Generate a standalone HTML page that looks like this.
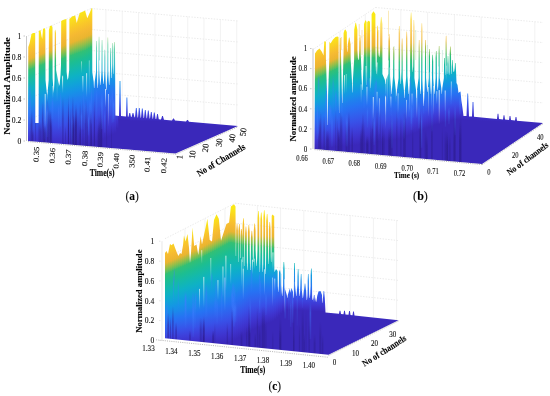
<!DOCTYPE html>
<html><head><meta charset="utf-8"><style>
html,body{margin:0;padding:0;background:#fff;}
svg{display:block;}
.g{stroke:#dcdcdc;stroke-width:0.6;stroke-dasharray:1.4 1.4;fill:none;}
.ax{stroke:#b0b0b0;stroke-width:0.7;fill:none;}
.gv{stroke:#ececec;stroke-width:0.7;fill:none;}
.ax2{stroke:#d8d8d8;stroke-width:0.6;fill:none;}
.axd{stroke:#a8a8a8;stroke-width:0.8;stroke-dasharray:1.1 1.1;fill:none;}
text{font-family:"Liberation Serif","Times New Roman",serif;fill:#111;stroke:#111;stroke-width:0.12;}
.b{font-weight:bold;fill:#000;stroke:#000;stroke-width:0.1;}
</style></head><body>
<svg width="550" height="396" viewBox="0 0 550 396">
<defs>
<linearGradient id="gH" x1="0" y1="0" x2="0" y2="1"><stop offset="0.000" stop-color="#fae816"/><stop offset="0.167" stop-color="#fad720"/><stop offset="0.333" stop-color="#f9c62a"/><stop offset="0.500" stop-color="#f5b932"/><stop offset="0.667" stop-color="#eab530"/><stop offset="0.833" stop-color="#91bf4a"/><stop offset="1.000" stop-color="#34c073"/></linearGradient>
<linearGradient id="gM" x1="0" y1="0" x2="0" y2="1"><stop offset="0.000" stop-color="#34c073"/><stop offset="0.167" stop-color="#1dbe90"/><stop offset="0.333" stop-color="#14b9ab"/><stop offset="0.500" stop-color="#0eb2c4"/><stop offset="0.667" stop-color="#10a4d7"/><stop offset="0.833" stop-color="#1594e6"/><stop offset="1.000" stop-color="#1e83ed"/></linearGradient>
<linearGradient id="gL" x1="0" y1="0" x2="0" y2="1"><stop offset="0.000" stop-color="#1e83ed"/><stop offset="0.167" stop-color="#2672f3"/><stop offset="0.333" stop-color="#3062ee"/><stop offset="0.500" stop-color="#3851e8"/><stop offset="0.667" stop-color="#3d40db"/><stop offset="0.833" stop-color="#3e32cc"/><stop offset="1.000" stop-color="#3a28ba"/></linearGradient>
<linearGradient id="dk" x1="0" y1="0" x2="0" y2="1"><stop offset="0" stop-color="#2a1a8c" stop-opacity="0"/><stop offset="0.45" stop-color="#2a1a8c" stop-opacity="0.42"/><stop offset="1" stop-color="#2a1a8c" stop-opacity="0.42"/></linearGradient>
<linearGradient id="bl" x1="0" y1="0" x2="0" y2="1"><stop offset="0" stop-color="#3f7cff" stop-opacity="0"/><stop offset="0.3" stop-color="#3f7cff" stop-opacity="0.45"/><stop offset="1" stop-color="#3f7cff" stop-opacity="0.1"/></linearGradient>
<linearGradient id="hz" x1="0" y1="0" x2="0" y2="1"><stop offset="0" stop-color="#fff" stop-opacity="0.5"/><stop offset="1" stop-color="#fff" stop-opacity="0"/></linearGradient>
<linearGradient id="lt" x1="0" y1="0" x2="0" y2="1"><stop offset="0" stop-color="#fff" stop-opacity="0.75"/><stop offset="1" stop-color="#fff" stop-opacity="0"/></linearGradient>
</defs>
<line x1="91" y1="92.5" x2="238" y2="105" class="g"/>
<line x1="28" y1="120" x2="91" y2="92.5" class="g"/>
<line x1="91" y1="71.5" x2="238" y2="84" class="g"/>
<line x1="28" y1="99" x2="91" y2="71.5" class="g"/>
<line x1="91" y1="50.5" x2="238" y2="63" class="g"/>
<line x1="28" y1="78" x2="91" y2="50.5" class="g"/>
<line x1="91" y1="29.5" x2="238" y2="42" class="g"/>
<line x1="28" y1="57" x2="91" y2="29.5" class="g"/>
<line x1="91" y1="8.5" x2="238" y2="21" class="g"/>
<line x1="28" y1="36" x2="91" y2="8.5" class="g"/>
<line x1="105.9" y1="114.8" x2="105.9" y2="9.8" class="gv"/>
<line x1="122.3" y1="116.2" x2="122.3" y2="11.2" class="gv"/>
<line x1="138.6" y1="117.6" x2="138.6" y2="12.6" class="gv"/>
<line x1="155" y1="118.9" x2="155" y2="13.9" class="gv"/>
<line x1="171.3" y1="120.3" x2="171.3" y2="15.3" class="gv"/>
<line x1="187.7" y1="121.7" x2="187.7" y2="16.7" class="gv"/>
<line x1="204" y1="123.1" x2="204" y2="18.1" class="gv"/>
<line x1="220.4" y1="124.5" x2="220.4" y2="19.5" class="gv"/>
<line x1="236.7" y1="125.9" x2="236.7" y2="20.9" class="gv"/>
<line x1="39.6" y1="135.9" x2="39.6" y2="30.9" class="gv"/>
<line x1="52.4" y1="130.3" x2="52.4" y2="25.3" class="gv"/>
<line x1="65.3" y1="124.7" x2="65.3" y2="19.7" class="gv"/>
<line x1="78.1" y1="119.1" x2="78.1" y2="14.1" class="gv"/>
<line x1="91" y1="113.5" x2="91" y2="8.5" class="gv"/>
<line x1="375.5" y1="87.9" x2="543" y2="102.9" class="g"/>
<line x1="314.5" y1="128.9" x2="375.5" y2="87.9" class="g"/>
<line x1="375.5" y1="67.8" x2="543" y2="82.8" class="g"/>
<line x1="314.5" y1="108.8" x2="375.5" y2="67.8" class="g"/>
<line x1="375.5" y1="47.7" x2="543" y2="62.7" class="g"/>
<line x1="314.5" y1="88.7" x2="375.5" y2="47.7" class="g"/>
<line x1="375.5" y1="27.6" x2="543" y2="42.6" class="g"/>
<line x1="314.5" y1="68.6" x2="375.5" y2="27.6" class="g"/>
<line x1="375.5" y1="7.5" x2="543" y2="22.5" class="g"/>
<line x1="314.5" y1="48.5" x2="375.5" y2="7.5" class="g"/>
<line x1="400.8" y1="110.3" x2="400.8" y2="9.8" class="gv"/>
<line x1="427.6" y1="112.7" x2="427.6" y2="12.2" class="gv"/>
<line x1="454.4" y1="115.1" x2="454.4" y2="14.6" class="gv"/>
<line x1="481.2" y1="117.5" x2="481.2" y2="17" class="gv"/>
<line x1="508" y1="119.9" x2="508" y2="19.4" class="gv"/>
<line x1="534.8" y1="122.3" x2="534.8" y2="21.8" class="gv"/>
<line x1="339.9" y1="131.9" x2="339.9" y2="31.4" class="gv"/>
<line x1="365.3" y1="114.8" x2="365.3" y2="14.3" class="gv"/>
<line x1="235" y1="282.8" x2="398.5" y2="300.3" class="g"/>
<line x1="165" y1="318.3" x2="235" y2="282.8" class="g"/>
<line x1="235" y1="262.9" x2="398.5" y2="280.4" class="g"/>
<line x1="165" y1="298.4" x2="235" y2="262.9" class="g"/>
<line x1="235" y1="243" x2="398.5" y2="260.5" class="g"/>
<line x1="165" y1="278.5" x2="235" y2="243" class="g"/>
<line x1="235" y1="223.1" x2="398.5" y2="240.6" class="g"/>
<line x1="165" y1="258.6" x2="235" y2="223.1" class="g"/>
<line x1="235" y1="203.2" x2="398.5" y2="220.7" class="g"/>
<line x1="165" y1="238.7" x2="235" y2="203.2" class="g"/>
<line x1="257.4" y1="305.1" x2="257.4" y2="205.6" class="gv"/>
<line x1="280.6" y1="307.6" x2="280.6" y2="208.1" class="gv"/>
<line x1="303.8" y1="310.1" x2="303.8" y2="210.6" class="gv"/>
<line x1="327" y1="312.5" x2="327" y2="213" class="gv"/>
<line x1="350.2" y1="315" x2="350.2" y2="215.5" class="gv"/>
<line x1="373.4" y1="317.5" x2="373.4" y2="218" class="gv"/>
<line x1="396.6" y1="320" x2="396.6" y2="220.5" class="gv"/>
<line x1="185" y1="328.1" x2="185" y2="228.6" class="gv"/>
<line x1="205" y1="317.9" x2="205" y2="218.4" class="gv"/>
<line x1="225" y1="307.8" x2="225" y2="208.3" class="gv"/>
<mask id="cA" maskUnits="userSpaceOnUse" x="0" y="0" width="550" height="396"><polygon points="28,141 28.3,47 29.5,43.5 31.5,34 33,33 35.2,33 35.3,123 38.6,123 38.8,31 40.5,30 41.5,36 42.2,39 43,29 44.5,28 45.3,30 45.5,80 46.5,90 47.2,95 48,88 48.7,80 48.9,30 50,26 51.5,25.6 52.4,27.5 52.6,78 53.3,88 53.8,93 54.5,80 54.8,31 55.3,29.6 55.9,33 56.1,70 58,80 59.5,86 60.5,75 61,65 61.2,21 63,20 66.4,19 66.6,72 67.5,80 68.3,78 69.2,70 69.4,19 70.5,18 72,16.5 75.2,15.5 76.7,23 79.7,13.1 83.2,11.6 85,10.5 87.3,18.2 91.8,8 92.3,8.5 92.3,72 93.7,82 94,88 94.3,88 94.7,82 96,72 96,48 96.2,41 96.7,41 96.9,48 97,70 97.2,82 97.6,88 97.9,88 98.2,82 98.5,70 98.6,43.8 98.8,36.8 99.3,36.8 99.5,43.8 99.5,70 100,80 100.4,85 100.7,85 101,80 101.5,70 101.6,47 101.8,40 102.3,40 102.5,47 102.5,70 103,80 103.3,84 103.6,84 104,80 104.4,70 104.4,56.7 104.6,49.7 105.1,49.7 105.3,56.7 105.3,72 105.8,84 106.2,90 106.5,90 106.8,84 107.4,72 107.4,44.6 107.6,37.6 108.1,37.6 108.3,44.6 108.3,70 108.7,80 109,85 109.3,85 109.7,80 110,70 110,55 110.2,48 110.7,48 110.9,55 111,66 111.1,74 111.2,78 111.6,78 111.7,74 111.9,66 111.9,50 112.1,43 112.6,43 112.8,50 112.8,64 113,70 113.1,74 113.4,74 113.5,70 113.7,64 113.7,49 114.1,42 114.6,42 115,49 115.4,115.6 119,115.9 119.6,81 120.4,81 121,116.1 126,116.5 126.5,97.6 127.3,97.6 127.8,116.6 128.5,116.7 129.3,113 130.2,113 131,116.9 131.5,116.9 132.6,113 133.4,113 134.5,117.2 135,117.2 135.9,108 136.7,108 137.6,117.5 138,117.5 138.9,108 139.7,108 140.6,117.7 141,117.8 141.9,108.5 142.7,108.5 143.6,118 144,118 144.9,110 145.7,110 146.6,118.2 147,118.3 147.9,110.5 148.7,110.5 149.6,118.5 150,118.5 150.9,112 151.7,112 152.6,118.7 153,118.8 153.9,112.5 154.7,112.5 155.6,119 156.2,119 157.1,114 157.9,114 158.8,119.3 161,119.5 162.1,116 162.9,116 164,119.7 172,120.4 173.1,118.5 173.9,118.5 175,120.6 186,121.6 187.1,120 187.9,120 189,121.8 238,126 175.5,153.6" fill="#fff"/></mask>
<g mask="url(#cA)">
<rect x="28" y="0" width="212" height="160" fill="#3a28ba"/>
<rect x="28" y="0" width="2.3" height="37.4" fill="#fae816"/>
<rect x="28" y="36.6" width="2.3" height="33.8" fill="url(#gH)"/>
<rect x="28" y="69.6" width="2.3" height="38.9" fill="url(#gM)"/>
<rect x="28" y="107.7" width="2.3" height="40.1" fill="url(#gL)"/>
<rect x="30" y="0" width="2.3" height="36.6" fill="#fae816"/>
<rect x="30" y="35.8" width="2.3" height="33.8" fill="url(#gH)"/>
<rect x="30" y="68.8" width="2.3" height="39.2" fill="url(#gM)"/>
<rect x="30" y="107.2" width="2.3" height="40.6" fill="url(#gL)"/>
<rect x="32" y="0" width="2.3" height="35.8" fill="#fae816"/>
<rect x="32" y="35" width="2.3" height="33.8" fill="url(#gH)"/>
<rect x="32" y="68" width="2.3" height="39.5" fill="url(#gM)"/>
<rect x="32" y="106.6" width="2.3" height="41.2" fill="url(#gL)"/>
<rect x="34" y="0" width="2.3" height="34.9" fill="#fae816"/>
<rect x="34" y="34.1" width="2.3" height="33.8" fill="url(#gH)"/>
<rect x="34" y="67.1" width="2.3" height="39.8" fill="url(#gM)"/>
<rect x="34" y="106.1" width="2.3" height="41.7" fill="url(#gL)"/>
<rect x="36" y="0" width="2.3" height="34.1" fill="#fae816"/>
<rect x="36" y="33.3" width="2.3" height="33.8" fill="url(#gH)"/>
<rect x="36" y="66.3" width="2.3" height="40" fill="url(#gM)"/>
<rect x="36" y="105.5" width="2.3" height="42.3" fill="url(#gL)"/>
<rect x="38" y="0" width="2.3" height="33.3" fill="#fae816"/>
<rect x="38" y="32.5" width="2.3" height="33.8" fill="url(#gH)"/>
<rect x="38" y="65.5" width="2.3" height="40.3" fill="url(#gM)"/>
<rect x="38" y="105" width="2.3" height="42.8" fill="url(#gL)"/>
<rect x="40" y="0" width="2.3" height="32.5" fill="#fae816"/>
<rect x="40" y="31.7" width="2.3" height="33.8" fill="url(#gH)"/>
<rect x="40" y="64.7" width="2.3" height="40.6" fill="url(#gM)"/>
<rect x="40" y="104.5" width="2.3" height="43.3" fill="url(#gL)"/>
<rect x="42" y="0" width="2.3" height="31.7" fill="#fae816"/>
<rect x="42" y="30.9" width="2.3" height="33.8" fill="url(#gH)"/>
<rect x="42" y="63.9" width="2.3" height="40.8" fill="url(#gM)"/>
<rect x="42" y="103.9" width="2.3" height="43.9" fill="url(#gL)"/>
<rect x="44" y="0" width="2.3" height="30.8" fill="#fae816"/>
<rect x="44" y="30" width="2.3" height="33.8" fill="url(#gH)"/>
<rect x="44" y="63" width="2.3" height="41.1" fill="url(#gM)"/>
<rect x="44" y="103.4" width="2.3" height="44.4" fill="url(#gL)"/>
<rect x="46" y="0" width="2.3" height="30" fill="#fae816"/>
<rect x="46" y="29.2" width="2.3" height="33.8" fill="url(#gH)"/>
<rect x="46" y="62.2" width="2.3" height="41.4" fill="url(#gM)"/>
<rect x="46" y="102.8" width="2.3" height="45" fill="url(#gL)"/>
<rect x="48" y="0" width="2.3" height="29.2" fill="#fae816"/>
<rect x="48" y="28.4" width="2.3" height="33.8" fill="url(#gH)"/>
<rect x="48" y="61.4" width="2.3" height="41.7" fill="url(#gM)"/>
<rect x="48" y="102.3" width="2.3" height="45.5" fill="url(#gL)"/>
<rect x="50" y="0" width="2.3" height="28.2" fill="#fae816"/>
<rect x="50" y="27.4" width="2.3" height="34.2" fill="url(#gH)"/>
<rect x="50" y="60.8" width="2.3" height="41.9" fill="url(#gM)"/>
<rect x="50" y="101.8" width="2.3" height="46" fill="url(#gL)"/>
<rect x="52" y="0" width="2.3" height="27" fill="#fae816"/>
<rect x="52" y="26.2" width="2.3" height="35" fill="url(#gH)"/>
<rect x="52" y="60.3" width="2.3" height="42" fill="url(#gM)"/>
<rect x="52" y="101.5" width="2.3" height="46.3" fill="url(#gL)"/>
<rect x="54" y="0" width="2.3" height="25.7" fill="#fae816"/>
<rect x="54" y="24.9" width="2.3" height="35.7" fill="url(#gH)"/>
<rect x="54" y="59.8" width="2.3" height="42.2" fill="url(#gM)"/>
<rect x="54" y="101.2" width="2.3" height="46.6" fill="url(#gL)"/>
<rect x="56" y="0" width="2.3" height="24.5" fill="#fae816"/>
<rect x="56" y="23.7" width="2.3" height="36.5" fill="url(#gH)"/>
<rect x="56" y="59.4" width="2.3" height="42.3" fill="url(#gM)"/>
<rect x="56" y="100.9" width="2.3" height="46.9" fill="url(#gL)"/>
<rect x="58" y="0" width="2.3" height="23.3" fill="#fae816"/>
<rect x="58" y="22.5" width="2.3" height="37.3" fill="url(#gH)"/>
<rect x="58" y="58.9" width="2.3" height="42.5" fill="url(#gM)"/>
<rect x="58" y="100.6" width="2.3" height="47.2" fill="url(#gL)"/>
<rect x="60" y="0" width="2.3" height="22" fill="#fae816"/>
<rect x="60" y="21.2" width="2.3" height="38" fill="url(#gH)"/>
<rect x="60" y="58.5" width="2.3" height="42.6" fill="url(#gM)"/>
<rect x="60" y="100.3" width="2.3" height="47.5" fill="url(#gL)"/>
<rect x="62" y="0" width="2.3" height="20.8" fill="#fae816"/>
<rect x="62" y="20" width="2.3" height="38.8" fill="url(#gH)"/>
<rect x="62" y="58" width="2.3" height="42.8" fill="url(#gM)"/>
<rect x="62" y="100" width="2.3" height="47.8" fill="url(#gL)"/>
<rect x="64" y="0" width="2.3" height="19.9" fill="#fae816"/>
<rect x="64" y="19.1" width="2.3" height="39" fill="url(#gH)"/>
<rect x="64" y="57.3" width="2.3" height="43.1" fill="url(#gM)"/>
<rect x="64" y="99.5" width="2.3" height="48.1" fill="url(#gL)"/>
<rect x="66" y="0" width="2.3" height="19" fill="#fae816"/>
<rect x="66" y="18.2" width="2.3" height="39.2" fill="url(#gH)"/>
<rect x="66" y="56.5" width="2.3" height="43.3" fill="url(#gM)"/>
<rect x="66" y="99.1" width="2.3" height="48.3" fill="url(#gL)"/>
<rect x="68" y="0" width="2.3" height="18.1" fill="#fae816"/>
<rect x="68" y="17.3" width="2.3" height="39.3" fill="url(#gH)"/>
<rect x="68" y="55.8" width="2.3" height="43.6" fill="url(#gM)"/>
<rect x="68" y="98.6" width="2.3" height="48.6" fill="url(#gL)"/>
<rect x="70" y="0" width="2.3" height="17.2" fill="#fae816"/>
<rect x="70" y="16.4" width="2.3" height="39.5" fill="url(#gH)"/>
<rect x="70" y="55.1" width="2.3" height="43.9" fill="url(#gM)"/>
<rect x="70" y="98.2" width="2.3" height="48.9" fill="url(#gL)"/>
<rect x="72" y="0" width="2.3" height="16.3" fill="#fae816"/>
<rect x="72" y="15.5" width="2.3" height="39.7" fill="url(#gH)"/>
<rect x="72" y="54.4" width="2.3" height="44.2" fill="url(#gM)"/>
<rect x="72" y="97.7" width="2.3" height="49.2" fill="url(#gL)"/>
<rect x="74" y="0" width="2.3" height="15.3" fill="#fae816"/>
<rect x="74" y="14.5" width="2.3" height="39.9" fill="url(#gH)"/>
<rect x="74" y="53.6" width="2.3" height="44.4" fill="url(#gM)"/>
<rect x="74" y="97.3" width="2.3" height="49.4" fill="url(#gL)"/>
<rect x="76" y="0" width="2.3" height="14.4" fill="#fae816"/>
<rect x="76" y="13.6" width="2.3" height="40.1" fill="url(#gH)"/>
<rect x="76" y="52.9" width="2.3" height="44.7" fill="url(#gM)"/>
<rect x="76" y="96.8" width="2.3" height="49.7" fill="url(#gL)"/>
<rect x="78" y="0" width="2.3" height="13.5" fill="#fae816"/>
<rect x="78" y="12.7" width="2.3" height="40.3" fill="url(#gH)"/>
<rect x="78" y="52.2" width="2.3" height="45" fill="url(#gM)"/>
<rect x="78" y="96.4" width="2.3" height="50" fill="url(#gL)"/>
<rect x="80" y="0" width="2.3" height="12.6" fill="#fae816"/>
<rect x="80" y="11.8" width="2.3" height="40.4" fill="url(#gH)"/>
<rect x="80" y="51.5" width="2.3" height="45.3" fill="url(#gM)"/>
<rect x="80" y="95.9" width="2.3" height="50.3" fill="url(#gL)"/>
<rect x="82" y="0" width="2.3" height="11.7" fill="#fae816"/>
<rect x="82" y="10.9" width="2.3" height="40.6" fill="url(#gH)"/>
<rect x="82" y="50.7" width="2.3" height="45.5" fill="url(#gM)"/>
<rect x="82" y="95.5" width="2.3" height="50.5" fill="url(#gL)"/>
<rect x="84" y="0" width="2.3" height="10.8" fill="#fae816"/>
<rect x="84" y="10" width="2.3" height="40.8" fill="url(#gH)"/>
<rect x="84" y="50" width="2.3" height="45.8" fill="url(#gM)"/>
<rect x="84" y="95" width="2.3" height="50.8" fill="url(#gL)"/>
<rect x="86" y="0" width="2.3" height="10.2" fill="#fae816"/>
<rect x="86" y="9.4" width="2.3" height="40.2" fill="url(#gH)"/>
<rect x="86" y="48.9" width="2.3" height="46.1" fill="url(#gM)"/>
<rect x="86" y="94.1" width="2.3" height="51.1" fill="url(#gL)"/>
<rect x="88" y="0" width="2.3" height="9.7" fill="#fae816"/>
<rect x="88" y="8.9" width="2.3" height="39.7" fill="url(#gH)"/>
<rect x="88" y="47.7" width="2.3" height="46.4" fill="url(#gM)"/>
<rect x="88" y="93.3" width="2.3" height="51.4" fill="url(#gL)"/>
<rect x="90" y="0" width="2.3" height="9.1" fill="#fae816"/>
<rect x="90" y="8.3" width="2.3" height="39.1" fill="url(#gH)"/>
<rect x="90" y="46.6" width="2.3" height="46.7" fill="url(#gM)"/>
<rect x="90" y="92.4" width="2.3" height="51.7" fill="url(#gL)"/>
<rect x="92" y="0" width="2.3" height="7.8" fill="#fae816"/>
<rect x="92" y="7" width="2.3" height="37.8" fill="url(#gH)"/>
<rect x="92" y="44" width="2.3" height="46.8" fill="url(#gM)"/>
<rect x="92" y="90" width="2.3" height="53.1" fill="url(#gL)"/>
<rect x="94" y="0" width="2.3" height="5.8" fill="#fae816"/>
<rect x="94" y="5" width="2.3" height="35.8" fill="url(#gH)"/>
<rect x="94" y="40" width="2.3" height="46.8" fill="url(#gM)"/>
<rect x="94" y="86" width="2.3" height="55.8" fill="url(#gL)"/>
<rect x="96" y="0" width="2.3" height="5.8" fill="#fae816"/>
<rect x="96" y="5" width="2.3" height="35.8" fill="url(#gH)"/>
<rect x="96" y="40" width="2.3" height="46" fill="url(#gM)"/>
<rect x="96" y="85.2" width="2.3" height="56.2" fill="url(#gL)"/>
<rect x="98" y="0" width="2.3" height="5.8" fill="#fae816"/>
<rect x="98" y="5" width="2.3" height="35.8" fill="url(#gH)"/>
<rect x="98" y="40" width="2.3" height="45.2" fill="url(#gM)"/>
<rect x="98" y="84.4" width="2.3" height="56.6" fill="url(#gL)"/>
<rect x="100" y="0" width="2.3" height="6.1" fill="#fae816"/>
<rect x="100" y="5.3" width="2.3" height="35.8" fill="url(#gH)"/>
<rect x="100" y="40.3" width="2.3" height="44.6" fill="url(#gM)"/>
<rect x="100" y="84.1" width="2.3" height="56.2" fill="url(#gL)"/>
<rect x="102" y="0" width="2.3" height="6.7" fill="#fae816"/>
<rect x="102" y="5.9" width="2.3" height="35.8" fill="url(#gH)"/>
<rect x="102" y="40.9" width="2.3" height="44.2" fill="url(#gM)"/>
<rect x="102" y="84.4" width="2.3" height="54.9" fill="url(#gL)"/>
<rect x="104" y="0" width="2.3" height="7.4" fill="#fae816"/>
<rect x="104" y="6.6" width="2.3" height="35.8" fill="url(#gH)"/>
<rect x="104" y="41.6" width="2.3" height="43.9" fill="url(#gM)"/>
<rect x="104" y="84.6" width="2.3" height="53.7" fill="url(#gL)"/>
<rect x="106" y="0" width="2.3" height="8" fill="#fae816"/>
<rect x="106" y="7.2" width="2.3" height="35.8" fill="url(#gH)"/>
<rect x="106" y="42.2" width="2.3" height="43.5" fill="url(#gM)"/>
<rect x="106" y="84.9" width="2.3" height="52.4" fill="url(#gL)"/>
<rect x="108" y="0" width="2.3" height="8.6" fill="#fae816"/>
<rect x="108" y="7.8" width="2.3" height="35.8" fill="url(#gH)"/>
<rect x="108" y="42.8" width="2.3" height="43.1" fill="url(#gM)"/>
<rect x="108" y="85.1" width="2.3" height="51.2" fill="url(#gL)"/>
<rect x="110" y="0" width="2.3" height="9.2" fill="#fae816"/>
<rect x="110" y="8.4" width="2.3" height="35.8" fill="url(#gH)"/>
<rect x="110" y="43.4" width="2.3" height="42.7" fill="url(#gM)"/>
<rect x="110" y="85.4" width="2.3" height="49.9" fill="url(#gL)"/>
<rect x="112" y="0" width="2.3" height="9.9" fill="#fae816"/>
<rect x="112" y="9.1" width="2.3" height="35.8" fill="url(#gH)"/>
<rect x="112" y="44.1" width="2.3" height="42.4" fill="url(#gM)"/>
<rect x="112" y="85.6" width="2.3" height="48.7" fill="url(#gL)"/>
<rect x="114" y="0" width="2.3" height="10.5" fill="#fae816"/>
<rect x="114" y="9.7" width="2.3" height="35.8" fill="url(#gH)"/>
<rect x="114" y="44.7" width="2.3" height="42" fill="url(#gM)"/>
<rect x="114" y="85.9" width="2.3" height="47.4" fill="url(#gL)"/>
<rect x="116" y="0" width="2.3" height="7.5" fill="#fae816"/>
<rect x="116" y="6.7" width="2.3" height="37.5" fill="url(#gH)"/>
<rect x="116" y="43.3" width="2.3" height="44.1" fill="url(#gM)"/>
<rect x="116" y="86.7" width="2.3" height="42" fill="url(#gL)"/>
<rect x="118" y="0" width="2.3" height="0.8" fill="#fae816"/>
<rect x="118" y="0" width="2.3" height="40.8" fill="url(#gH)"/>
<rect x="118" y="40" width="2.3" height="48.8" fill="url(#gM)"/>
<rect x="118" y="88" width="2.3" height="32.3" fill="url(#gL)"/>
<rect x="120" y="0" width="2.3" height="0.8" fill="#fae816"/>
<rect x="120" y="0" width="2.3" height="40.8" fill="url(#gH)"/>
<rect x="120" y="40" width="2.3" height="50.1" fill="url(#gM)"/>
<rect x="120" y="89.3" width="2.3" height="31" fill="url(#gL)"/>
<rect x="122" y="0" width="2.3" height="0.8" fill="#fae816"/>
<rect x="122" y="0" width="2.3" height="40.8" fill="url(#gH)"/>
<rect x="122" y="40" width="2.3" height="51.5" fill="url(#gM)"/>
<rect x="122" y="90.7" width="2.3" height="29.6" fill="url(#gL)"/>
<rect x="124" y="0" width="2.3" height="0.8" fill="#fae816"/>
<rect x="124" y="0" width="2.3" height="40.8" fill="url(#gH)"/>
<rect x="124" y="40" width="2.3" height="52.8" fill="url(#gM)"/>
<rect x="124" y="92" width="2.3" height="28.3" fill="url(#gL)"/>
<rect x="126" y="0" width="2.3" height="2.8" fill="#fae816"/>
<rect x="126" y="2" width="2.3" height="40.8" fill="url(#gH)"/>
<rect x="126" y="42" width="2.3" height="54" fill="url(#gM)"/>
<rect x="126" y="95.2" width="2.3" height="25.3" fill="url(#gL)"/>
<rect x="128" y="0" width="2.3" height="4.8" fill="#fae816"/>
<rect x="128" y="4" width="2.3" height="40.8" fill="url(#gH)"/>
<rect x="128" y="44" width="2.3" height="55.2" fill="url(#gM)"/>
<rect x="128" y="98.4" width="2.3" height="22.3" fill="url(#gL)"/>
<rect x="130" y="0" width="2.3" height="6" fill="#fae816"/>
<rect x="130" y="5.2" width="2.3" height="40.8" fill="url(#gH)"/>
<rect x="130" y="45.2" width="2.3" height="55.7" fill="url(#gM)"/>
<rect x="130" y="100.1" width="2.3" height="20.8" fill="url(#gL)"/>
<rect x="132" y="0" width="2.3" height="6.3" fill="#fae816"/>
<rect x="132" y="5.5" width="2.3" height="40.8" fill="url(#gH)"/>
<rect x="132" y="45.5" width="2.3" height="55.5" fill="url(#gM)"/>
<rect x="132" y="100.2" width="2.3" height="20.6" fill="url(#gL)"/>
<rect x="134" y="0" width="2.3" height="6.6" fill="#fae816"/>
<rect x="134" y="5.8" width="2.3" height="40.8" fill="url(#gH)"/>
<rect x="134" y="45.8" width="2.3" height="55.3" fill="url(#gM)"/>
<rect x="134" y="100.3" width="2.3" height="20.6" fill="url(#gL)"/>
<rect x="136" y="0" width="2.3" height="7" fill="#fae816"/>
<rect x="136" y="6.2" width="2.3" height="40.8" fill="url(#gH)"/>
<rect x="136" y="46.2" width="2.3" height="55.1" fill="url(#gM)"/>
<rect x="136" y="100.5" width="2.3" height="20.4" fill="url(#gL)"/>
<rect x="138" y="0" width="2.3" height="7.3" fill="#fae816"/>
<rect x="138" y="6.5" width="2.3" height="40.8" fill="url(#gH)"/>
<rect x="138" y="46.5" width="2.3" height="54.9" fill="url(#gM)"/>
<rect x="138" y="100.6" width="2.3" height="20.4" fill="url(#gL)"/>
<rect x="140" y="0" width="2.3" height="7.6" fill="#fae816"/>
<rect x="140" y="6.8" width="2.3" height="40.8" fill="url(#gH)"/>
<rect x="140" y="46.8" width="2.3" height="54.7" fill="url(#gM)"/>
<rect x="140" y="100.7" width="2.3" height="20.3" fill="url(#gL)"/>
<rect x="142" y="0" width="2.3" height="8" fill="#fae816"/>
<rect x="142" y="7.2" width="2.3" height="40.8" fill="url(#gH)"/>
<rect x="142" y="47.2" width="2.3" height="54.5" fill="url(#gM)"/>
<rect x="142" y="100.9" width="2.3" height="20.2" fill="url(#gL)"/>
<rect x="144" y="0" width="2.3" height="8.3" fill="#fae816"/>
<rect x="144" y="7.5" width="2.3" height="40.8" fill="url(#gH)"/>
<rect x="144" y="47.5" width="2.3" height="54.3" fill="url(#gM)"/>
<rect x="144" y="101" width="2.3" height="20.1" fill="url(#gL)"/>
<rect x="146" y="0" width="2.3" height="8.6" fill="#fae816"/>
<rect x="146" y="7.8" width="2.3" height="40.8" fill="url(#gH)"/>
<rect x="146" y="47.8" width="2.3" height="54.1" fill="url(#gM)"/>
<rect x="146" y="101.1" width="2.3" height="19.9" fill="url(#gL)"/>
<rect x="148" y="0" width="2.3" height="9" fill="#fae816"/>
<rect x="148" y="8.2" width="2.3" height="40.8" fill="url(#gH)"/>
<rect x="148" y="48.2" width="2.3" height="53.9" fill="url(#gM)"/>
<rect x="148" y="101.3" width="2.3" height="19.8" fill="url(#gL)"/>
<rect x="150" y="0" width="2.3" height="9.3" fill="#fae816"/>
<rect x="150" y="8.5" width="2.3" height="40.8" fill="url(#gH)"/>
<rect x="150" y="48.5" width="2.3" height="53.7" fill="url(#gM)"/>
<rect x="150" y="101.4" width="2.3" height="19.7" fill="url(#gL)"/>
<rect x="152" y="0" width="2.3" height="9.6" fill="#fae816"/>
<rect x="152" y="8.8" width="2.3" height="40.8" fill="url(#gH)"/>
<rect x="152" y="48.8" width="2.3" height="53.5" fill="url(#gM)"/>
<rect x="152" y="101.5" width="2.3" height="19.7" fill="url(#gL)"/>
<rect x="154" y="0" width="2.3" height="10" fill="#fae816"/>
<rect x="154" y="9.2" width="2.3" height="40.8" fill="url(#gH)"/>
<rect x="154" y="49.2" width="2.3" height="53.3" fill="url(#gM)"/>
<rect x="154" y="101.7" width="2.3" height="19.6" fill="url(#gL)"/>
<rect x="156" y="0" width="2.3" height="10.3" fill="#fae816"/>
<rect x="156" y="9.5" width="2.3" height="40.8" fill="url(#gH)"/>
<rect x="156" y="49.5" width="2.3" height="53.1" fill="url(#gM)"/>
<rect x="156" y="101.8" width="2.3" height="19.5" fill="url(#gL)"/>
<rect x="158" y="0" width="2.3" height="10.6" fill="#fae816"/>
<rect x="158" y="9.8" width="2.3" height="40.8" fill="url(#gH)"/>
<rect x="158" y="49.8" width="2.3" height="52.9" fill="url(#gM)"/>
<rect x="158" y="101.9" width="2.3" height="19.3" fill="url(#gL)"/>
<rect x="160" y="0" width="2.3" height="11.1" fill="#fae816"/>
<rect x="160" y="10.2" width="2.3" height="40.7" fill="url(#gH)"/>
<rect x="160" y="50.2" width="2.3" height="52.6" fill="url(#gM)"/>
<rect x="160" y="102" width="2.3" height="19.4" fill="url(#gL)"/>
<rect x="162" y="0" width="2.3" height="11.6" fill="#fae816"/>
<rect x="162" y="10.8" width="2.3" height="40.6" fill="url(#gH)"/>
<rect x="162" y="50.6" width="2.3" height="52.2" fill="url(#gM)"/>
<rect x="162" y="101.9" width="2.3" height="19.6" fill="url(#gL)"/>
<rect x="164" y="0" width="2.3" height="12.1" fill="#fae816"/>
<rect x="164" y="11.2" width="2.3" height="40.5" fill="url(#gH)"/>
<rect x="164" y="50.9" width="2.3" height="51.7" fill="url(#gM)"/>
<rect x="164" y="101.9" width="2.3" height="19.8" fill="url(#gL)"/>
<rect x="166" y="0" width="2.3" height="12.6" fill="#fae816"/>
<rect x="166" y="11.8" width="2.3" height="40.4" fill="url(#gH)"/>
<rect x="166" y="51.3" width="2.3" height="51.3" fill="url(#gM)"/>
<rect x="166" y="101.8" width="2.3" height="20" fill="url(#gL)"/>
<rect x="168" y="0" width="2.3" height="13.1" fill="#fae816"/>
<rect x="168" y="12.2" width="2.3" height="40.2" fill="url(#gH)"/>
<rect x="168" y="51.7" width="2.3" height="50.9" fill="url(#gM)"/>
<rect x="168" y="101.8" width="2.3" height="20.3" fill="url(#gL)"/>
<rect x="170" y="0" width="2.3" height="13.6" fill="#fae816"/>
<rect x="170" y="12.8" width="2.3" height="40.1" fill="url(#gH)"/>
<rect x="170" y="52.1" width="2.3" height="50.5" fill="url(#gM)"/>
<rect x="170" y="101.7" width="2.3" height="20.5" fill="url(#gL)"/>
<rect x="172" y="0" width="2.3" height="14.1" fill="#fae816"/>
<rect x="172" y="13.2" width="2.3" height="40" fill="url(#gH)"/>
<rect x="172" y="52.4" width="2.3" height="50" fill="url(#gM)"/>
<rect x="172" y="101.7" width="2.3" height="20.7" fill="url(#gL)"/>
<rect x="174" y="0" width="2.3" height="14.6" fill="#fae816"/>
<rect x="174" y="13.8" width="2.3" height="39.9" fill="url(#gH)"/>
<rect x="174" y="52.8" width="2.3" height="49.6" fill="url(#gM)"/>
<rect x="174" y="101.6" width="2.3" height="20.9" fill="url(#gL)"/>
<rect x="176" y="0" width="2.3" height="15.1" fill="#fae816"/>
<rect x="176" y="14.2" width="2.3" height="39.7" fill="url(#gH)"/>
<rect x="176" y="53.2" width="2.3" height="49.2" fill="url(#gM)"/>
<rect x="176" y="101.6" width="2.3" height="21.1" fill="url(#gL)"/>
<rect x="178" y="0" width="2.3" height="15.6" fill="#fae816"/>
<rect x="178" y="14.8" width="2.3" height="39.6" fill="url(#gH)"/>
<rect x="178" y="53.6" width="2.3" height="48.8" fill="url(#gM)"/>
<rect x="178" y="101.5" width="2.3" height="21.3" fill="url(#gL)"/>
<rect x="180" y="0" width="2.3" height="16.1" fill="#fae816"/>
<rect x="180" y="15.2" width="2.3" height="39.5" fill="url(#gH)"/>
<rect x="180" y="53.9" width="2.3" height="48.3" fill="url(#gM)"/>
<rect x="180" y="101.5" width="2.3" height="21.5" fill="url(#gL)"/>
<rect x="182" y="0" width="2.3" height="16.6" fill="#fae816"/>
<rect x="182" y="15.8" width="2.3" height="39.4" fill="url(#gH)"/>
<rect x="182" y="54.3" width="2.3" height="47.9" fill="url(#gM)"/>
<rect x="182" y="101.4" width="2.3" height="21.7" fill="url(#gL)"/>
<rect x="184" y="0" width="2.3" height="17.1" fill="#fae816"/>
<rect x="184" y="16.2" width="2.3" height="39.2" fill="url(#gH)"/>
<rect x="184" y="54.7" width="2.3" height="47.5" fill="url(#gM)"/>
<rect x="184" y="101.4" width="2.3" height="22" fill="url(#gL)"/>
<rect x="186" y="0" width="2.3" height="17.6" fill="#fae816"/>
<rect x="186" y="16.8" width="2.3" height="39.1" fill="url(#gH)"/>
<rect x="186" y="55.1" width="2.3" height="47.1" fill="url(#gM)"/>
<rect x="186" y="101.3" width="2.3" height="22.2" fill="url(#gL)"/>
<rect x="188" y="0" width="2.3" height="18.1" fill="#fae816"/>
<rect x="188" y="17.2" width="2.3" height="39" fill="url(#gH)"/>
<rect x="188" y="55.4" width="2.3" height="46.6" fill="url(#gM)"/>
<rect x="188" y="101.3" width="2.3" height="22.4" fill="url(#gL)"/>
<rect x="190" y="0" width="2.3" height="18.6" fill="#fae816"/>
<rect x="190" y="17.8" width="2.3" height="38.9" fill="url(#gH)"/>
<rect x="190" y="55.8" width="2.3" height="46.2" fill="url(#gM)"/>
<rect x="190" y="101.2" width="2.3" height="22.6" fill="url(#gL)"/>
<rect x="192" y="0" width="2.3" height="19.1" fill="#fae816"/>
<rect x="192" y="18.2" width="2.3" height="38.7" fill="url(#gH)"/>
<rect x="192" y="56.2" width="2.3" height="45.8" fill="url(#gM)"/>
<rect x="192" y="101.2" width="2.3" height="22.8" fill="url(#gL)"/>
<rect x="194" y="0" width="2.3" height="19.6" fill="#fae816"/>
<rect x="194" y="18.8" width="2.3" height="38.6" fill="url(#gH)"/>
<rect x="194" y="56.6" width="2.3" height="45.4" fill="url(#gM)"/>
<rect x="194" y="101.1" width="2.3" height="23" fill="url(#gL)"/>
<rect x="196" y="0" width="2.3" height="20.1" fill="#fae816"/>
<rect x="196" y="19.2" width="2.3" height="38.5" fill="url(#gH)"/>
<rect x="196" y="56.9" width="2.3" height="44.9" fill="url(#gM)"/>
<rect x="196" y="101.1" width="2.3" height="23.2" fill="url(#gL)"/>
<rect x="198" y="0" width="2.3" height="20.6" fill="#fae816"/>
<rect x="198" y="19.8" width="2.3" height="38.4" fill="url(#gH)"/>
<rect x="198" y="57.3" width="2.3" height="44.5" fill="url(#gM)"/>
<rect x="198" y="101" width="2.3" height="23.4" fill="url(#gL)"/>
<rect x="200" y="0" width="2.3" height="21.1" fill="#fae816"/>
<rect x="200" y="20.2" width="2.3" height="38.2" fill="url(#gH)"/>
<rect x="200" y="57.7" width="2.3" height="44.1" fill="url(#gM)"/>
<rect x="200" y="101" width="2.3" height="23.7" fill="url(#gL)"/>
<rect x="202" y="0" width="2.3" height="21.6" fill="#fae816"/>
<rect x="202" y="20.8" width="2.3" height="38.1" fill="url(#gH)"/>
<rect x="202" y="58.1" width="2.3" height="43.7" fill="url(#gM)"/>
<rect x="202" y="100.9" width="2.3" height="23.9" fill="url(#gL)"/>
<rect x="204" y="0" width="2.3" height="22.1" fill="#fae816"/>
<rect x="204" y="21.2" width="2.3" height="38" fill="url(#gH)"/>
<rect x="204" y="58.4" width="2.3" height="43.2" fill="url(#gM)"/>
<rect x="204" y="100.9" width="2.3" height="24.1" fill="url(#gL)"/>
<rect x="206" y="0" width="2.3" height="22.6" fill="#fae816"/>
<rect x="206" y="21.8" width="2.3" height="37.9" fill="url(#gH)"/>
<rect x="206" y="58.8" width="2.3" height="42.8" fill="url(#gM)"/>
<rect x="206" y="100.8" width="2.3" height="24.3" fill="url(#gL)"/>
<rect x="208" y="0" width="2.3" height="23.1" fill="#fae816"/>
<rect x="208" y="22.2" width="2.3" height="37.7" fill="url(#gH)"/>
<rect x="208" y="59.2" width="2.3" height="42.4" fill="url(#gM)"/>
<rect x="208" y="100.8" width="2.3" height="24.5" fill="url(#gL)"/>
<rect x="210" y="0" width="2.3" height="23.6" fill="#fae816"/>
<rect x="210" y="22.8" width="2.3" height="37.6" fill="url(#gH)"/>
<rect x="210" y="59.6" width="2.3" height="42" fill="url(#gM)"/>
<rect x="210" y="100.7" width="2.3" height="24.7" fill="url(#gL)"/>
<rect x="212" y="0" width="2.3" height="24.1" fill="#fae816"/>
<rect x="212" y="23.2" width="2.3" height="37.5" fill="url(#gH)"/>
<rect x="212" y="59.9" width="2.3" height="41.5" fill="url(#gM)"/>
<rect x="212" y="100.7" width="2.3" height="24.9" fill="url(#gL)"/>
<rect x="214" y="0" width="2.3" height="24.6" fill="#fae816"/>
<rect x="214" y="23.8" width="2.3" height="37.4" fill="url(#gH)"/>
<rect x="214" y="60.3" width="2.3" height="41.1" fill="url(#gM)"/>
<rect x="214" y="100.6" width="2.3" height="25.1" fill="url(#gL)"/>
<rect x="216" y="0" width="2.3" height="25.1" fill="#fae816"/>
<rect x="216" y="24.2" width="2.3" height="37.2" fill="url(#gH)"/>
<rect x="216" y="60.7" width="2.3" height="40.7" fill="url(#gM)"/>
<rect x="216" y="100.6" width="2.3" height="25.4" fill="url(#gL)"/>
<rect x="218" y="0" width="2.3" height="25.6" fill="#fae816"/>
<rect x="218" y="24.8" width="2.3" height="37.1" fill="url(#gH)"/>
<rect x="218" y="61.1" width="2.3" height="40.3" fill="url(#gM)"/>
<rect x="218" y="100.5" width="2.3" height="25.6" fill="url(#gL)"/>
<rect x="220" y="0" width="2.3" height="26.1" fill="#fae816"/>
<rect x="220" y="25.2" width="2.3" height="37" fill="url(#gH)"/>
<rect x="220" y="61.4" width="2.3" height="39.8" fill="url(#gM)"/>
<rect x="220" y="100.5" width="2.3" height="25.8" fill="url(#gL)"/>
<rect x="222" y="0" width="2.3" height="26.6" fill="#fae816"/>
<rect x="222" y="25.8" width="2.3" height="36.9" fill="url(#gH)"/>
<rect x="222" y="61.8" width="2.3" height="39.4" fill="url(#gM)"/>
<rect x="222" y="100.4" width="2.3" height="26" fill="url(#gL)"/>
<rect x="224" y="0" width="2.3" height="27.1" fill="#fae816"/>
<rect x="224" y="26.2" width="2.3" height="36.7" fill="url(#gH)"/>
<rect x="224" y="62.2" width="2.3" height="39" fill="url(#gM)"/>
<rect x="224" y="100.4" width="2.3" height="26.2" fill="url(#gL)"/>
<rect x="226" y="0" width="2.3" height="27.6" fill="#fae816"/>
<rect x="226" y="26.8" width="2.3" height="36.6" fill="url(#gH)"/>
<rect x="226" y="62.6" width="2.3" height="38.6" fill="url(#gM)"/>
<rect x="226" y="100.3" width="2.3" height="26.4" fill="url(#gL)"/>
<rect x="228" y="0" width="2.3" height="28.1" fill="#fae816"/>
<rect x="228" y="27.2" width="2.3" height="36.5" fill="url(#gH)"/>
<rect x="228" y="62.9" width="2.3" height="38.1" fill="url(#gM)"/>
<rect x="228" y="100.3" width="2.3" height="26.6" fill="url(#gL)"/>
<rect x="230" y="0" width="2.3" height="28.6" fill="#fae816"/>
<rect x="230" y="27.8" width="2.3" height="36.4" fill="url(#gH)"/>
<rect x="230" y="63.3" width="2.3" height="37.7" fill="url(#gM)"/>
<rect x="230" y="100.2" width="2.3" height="26.8" fill="url(#gL)"/>
<rect x="232" y="0" width="2.3" height="29.1" fill="#fae816"/>
<rect x="232" y="28.2" width="2.3" height="36.2" fill="url(#gH)"/>
<rect x="232" y="63.7" width="2.3" height="37.3" fill="url(#gM)"/>
<rect x="232" y="100.2" width="2.3" height="27.1" fill="url(#gL)"/>
<rect x="234" y="0" width="2.3" height="29.6" fill="#fae816"/>
<rect x="234" y="28.8" width="2.3" height="36.1" fill="url(#gH)"/>
<rect x="234" y="64.1" width="2.3" height="36.9" fill="url(#gM)"/>
<rect x="234" y="100.1" width="2.3" height="27.3" fill="url(#gL)"/>
<rect x="236" y="0" width="2.3" height="30.1" fill="#fae816"/>
<rect x="236" y="29.2" width="2.3" height="36" fill="url(#gH)"/>
<rect x="236" y="64.4" width="2.3" height="36.4" fill="url(#gM)"/>
<rect x="236" y="100.1" width="2.3" height="27.5" fill="url(#gL)"/>
<rect x="238" y="0" width="2.3" height="30.6" fill="#fae816"/>
<rect x="238" y="29.8" width="2.3" height="35.9" fill="url(#gH)"/>
<rect x="238" y="64.8" width="2.3" height="36" fill="url(#gM)"/>
<rect x="238" y="100" width="2.3" height="27.7" fill="url(#gL)"/>
<rect x="92.5" y="30" width="23" height="50" fill="url(#hz)"/><rect x="39.7" y="121.7" width="2.0" height="22.3" fill="url(#dk)"/>
<rect x="50.2" y="110.7" width="1.4" height="34.2" fill="url(#dk)"/>
<rect x="84.7" y="98.3" width="1.9" height="49.6" fill="url(#dk)"/>
<rect x="30.5" y="110.1" width="2.0" height="33.1" fill="url(#dk)"/>
<rect x="94.3" y="110.6" width="0.7" height="38.1" fill="url(#dk)"/>
<rect x="90.8" y="128.1" width="1.0" height="20.3" fill="url(#dk)"/>
<rect x="106.4" y="95.9" width="0.7" height="53.8" fill="url(#dk)"/>
<rect x="75.1" y="108.3" width="2.1" height="38.7" fill="url(#dk)"/>
<rect x="46.8" y="96.0" width="1.3" height="48.6" fill="url(#dk)"/>
<rect x="47.3" y="112.4" width="1.4" height="32.3" fill="url(#dk)"/>
<rect x="48.3" y="102.7" width="1.0" height="42.1" fill="url(#dk)"/>
<rect x="68.0" y="95.8" width="1.1" height="50.7" fill="url(#dk)"/>
<rect x="100.9" y="117.5" width="1.5" height="31.7" fill="url(#dk)"/>
<rect x="44.2" y="125.1" width="2.2" height="19.3" fill="url(#dk)"/>
<rect x="38.5" y="120.3" width="1.2" height="23.6" fill="url(#dk)"/>
<rect x="89.9" y="109.8" width="2.1" height="38.5" fill="url(#dk)"/>
<rect x="100.2" y="105.6" width="1.7" height="43.6" fill="url(#dk)"/>
<rect x="79.1" y="124.6" width="2.0" height="22.7" fill="url(#dk)"/>
<rect x="72.0" y="96.2" width="1.6" height="50.5" fill="url(#dk)"/>
<rect x="49.1" y="109.5" width="1.9" height="35.3" fill="url(#dk)"/>
<rect x="43.1" y="119.6" width="1.5" height="24.7" fill="url(#dk)"/>
<rect x="86.7" y="110.4" width="1.3" height="37.6" fill="url(#dk)"/>
<rect x="72.2" y="113.2" width="1.9" height="33.5" fill="url(#dk)"/>
<rect x="62.2" y="96.0" width="1.4" height="49.9" fill="url(#dk)"/>
<rect x="31.8" y="129.4" width="1.8" height="13.9" fill="url(#dk)"/>
<rect x="79.6" y="101.0" width="1.3" height="46.4" fill="url(#dk)"/>
<rect x="71.7" y="122.0" width="2.2" height="24.8" fill="url(#dk)"/>
<rect x="74.9" y="103.1" width="2.0" height="43.9" fill="url(#dk)"/>
<rect x="72.7" y="115.2" width="2.1" height="31.6" fill="url(#dk)"/>
<rect x="67.9" y="114.2" width="1.1" height="32.2" fill="url(#dk)"/>
<rect x="111.3" y="122.4" width="0.7" height="27.7" fill="url(#dk)"/>
<rect x="99.4" y="120.9" width="2.0" height="28.2" fill="url(#dk)"/>
<rect x="98.4" y="114.6" width="1.5" height="34.4" fill="url(#dk)"/>
<rect x="65.1" y="125.5" width="0.8" height="20.7" fill="url(#dk)"/>
<rect x="77.6" y="112.7" width="1.0" height="34.6" fill="url(#dk)"/>
<rect x="70.2" y="107.1" width="1.2" height="39.5" fill="url(#dk)"/>
<rect x="74.8" y="116.4" width="1.6" height="30.6" fill="url(#dk)"/>
<rect x="67.9" y="103.0" width="0.7" height="43.4" fill="url(#dk)"/>
<rect x="43.4" y="125.1" width="1.6" height="19.2" fill="url(#dk)"/>
<rect x="97.5" y="123.6" width="1.9" height="25.4" fill="url(#dk)"/>
<rect x="50.2" y="118.6" width="2.0" height="26.3" fill="url(#dk)"/>
<rect x="35.2" y="95.5" width="0.7" height="48.1" fill="url(#dk)"/>
<rect x="93.7" y="98.8" width="1.1" height="49.8" fill="url(#dk)"/>
<rect x="82.4" y="97.4" width="1.2" height="50.2" fill="url(#dk)"/>
<rect x="41.9" y="100.9" width="1.5" height="43.3" fill="url(#dk)"/>
<rect x="51.7" y="95.9" width="1.6" height="23.1" fill="url(#bl)"/>
<rect x="69.2" y="93.5" width="0.7" height="25.5" fill="url(#bl)"/>
<rect x="44.4" y="111.5" width="0.8" height="27.8" fill="url(#bl)"/>
<rect x="46.2" y="108.6" width="1.5" height="15.5" fill="url(#bl)"/>
<rect x="29.6" y="105.2" width="0.9" height="19.0" fill="url(#bl)"/>
<rect x="89.3" y="99.1" width="1.6" height="20.5" fill="url(#bl)"/>
<rect x="112.9" y="98.1" width="1.7" height="20.6" fill="url(#bl)"/>
<rect x="84.4" y="100.2" width="1.2" height="23.0" fill="url(#bl)"/>
<rect x="82.9" y="90.5" width="0.8" height="39.2" fill="url(#bl)"/>
<rect x="104.2" y="110.0" width="1.1" height="22.8" fill="url(#bl)"/>
<rect x="109.7" y="94.6" width="1.7" height="21.3" fill="url(#bl)"/>
<rect x="28.7" y="81.3" width="1.8" height="35.5" fill="url(#bl)"/>
<rect x="111.7" y="86.0" width="1.4" height="36.7" fill="url(#bl)"/>
<rect x="112.7" y="97.8" width="1.6" height="24.4" fill="url(#bl)"/>
<rect x="58.2" y="103.6" width="1.0" height="25.8" fill="url(#bl)"/>
<rect x="44.9" y="103.3" width="0.8" height="22.4" fill="url(#bl)"/>
<rect x="71.5" y="110.5" width="1.1" height="37.5" fill="url(#bl)"/>
<rect x="29.6" y="91.5" width="1.0" height="39.7" fill="url(#bl)"/>
<rect x="96.1" y="87.5" width="1.1" height="31.9" fill="url(#bl)"/>
<rect x="100.9" y="92.0" width="1.9" height="37.1" fill="url(#bl)"/>
<rect x="87.8" y="114.5" width="1.3" height="20.9" fill="url(#bl)"/>
<rect x="91.1" y="85.9" width="0.8" height="37.8" fill="url(#bl)"/>
<rect x="46.5" y="101.0" width="1.7" height="36.0" fill="url(#bl)"/>
<rect x="60.0" y="90.2" width="1.1" height="36.7" fill="url(#bl)"/>
<rect x="80.5" y="111.1" width="1.9" height="18.4" fill="url(#bl)"/>
<rect x="81.3" y="61.4" width="0.6" height="11.8" fill="url(#lt)"/>
<rect x="105.0" y="89.0" width="1.0" height="18.5" fill="url(#lt)"/>
<rect x="86.1" y="73.2" width="1.0" height="24.3" fill="url(#lt)"/>
<rect x="56.8" y="69.3" width="0.5" height="32.3" fill="url(#lt)"/>
<rect x="82.3" y="76.0" width="1.1" height="16.9" fill="url(#lt)"/>
<rect x="99.0" y="60.4" width="1.0" height="26.8" fill="url(#lt)"/>
<rect x="46.9" y="91.0" width="0.6" height="11.0" fill="url(#lt)"/>
<rect x="58.0" y="74.7" width="1.1" height="12.9" fill="url(#lt)"/>
<rect x="52.6" y="86.0" width="0.6" height="12.6" fill="url(#lt)"/>
<rect x="108.3" y="94.0" width="0.7" height="32.7" fill="url(#lt)"/>
<rect x="62.1" y="76.7" width="0.7" height="12.5" fill="url(#lt)"/>
<rect x="88.9" y="60.4" width="0.5" height="34.6" fill="url(#lt)"/>
<rect x="62.2" y="75.7" width="0.9" height="17.8" fill="url(#lt)"/>
<rect x="44.7" y="93.9" width="1.0" height="34.2" fill="url(#lt)"/>
</g>
<mask id="cB" maskUnits="userSpaceOnUse" x="0" y="0" width="550" height="396"><polygon points="314.5,149 315,53.5 317,50.5 319.6,48.4 322,52 323.5,55.4 324.3,41.5 325.9,41.5 325.9,58 327.1,95 327.5,125 327.8,125 328.1,95 329.3,58 329.4,41.5 330.5,43.4 333,39.6 335.5,37 337.5,36.4 338.5,37 338.6,45 338.7,80 339,113 339.2,113 339.5,80 339.6,45 339.7,45 340,38 340.5,38 340.8,45 340.9,50 341.7,85 342.1,103 342.4,103 342.7,85 343.6,50 343.6,33 344.6,30 345.5,29.5 346.8,32 346.9,47 347,50 347.2,52 347.4,52 347.6,50 347.8,47 347.8,44.5 349,37.5 349.5,37.5 350.6,44.5 350.7,60 351.9,80 352.2,92.5 352.5,92.5 352.9,80 354.1,60 354.2,29.7 355.5,22.7 356,22.7 357.4,29.7 357.4,50 357.9,58 358.2,60 358.5,60 358.9,58 359.2,50 359.3,42 359.8,35 360.2,35 360.7,42 360.8,55 361.9,80 362.2,90 362.5,90 362.9,80 363.9,55 364,24 365.5,20 366.6,22 366.7,45 366.7,70 366.8,85 367,85 367.1,70 367.1,45 367.2,22 368.2,21 369,20.8 370,22 370.1,50 370.3,75 370.7,88 370.9,88 371.3,75 371.6,50 371.6,14 373.5,11.3 375.4,14 375.4,45 375.7,65 376.1,74 376.3,74 376.7,65 376.9,45 377,32.8 377.4,25.8 377.9,25.8 378.2,32.8 378.2,50 378.7,55 379.1,57 379.3,57 379.7,55 380.1,50 380.2,24 381,17 381.5,17 382.4,24 382.4,74 384.9,80 385.2,84 385.5,84 385.9,80 388.3,74 388.4,41 388.9,34 389.4,34 390,41 390.1,76 391.1,88 391.5,94 391.8,94 392.1,88 393.1,76 393.2,54 393.5,47 394,47 394.3,54 394.4,78 396,90 396.4,96 396.6,96 397,90 398.6,78 398.7,33 399,26 399.5,26 399.9,33 399.9,70 400.2,78 400.6,84 400.9,84 401.2,78 401.6,70 401.6,45.5 401.9,38.5 402.4,38.5 402.6,45.5 402.7,78 403.9,90 404.2,98 404.5,98 404.9,90 406.1,78 406.1,38.5 406.5,31.5 407,31.5 407.3,38.5 407.4,76 408.2,88 408.6,94 408.9,94 409.2,88 410.1,76 410.2,19.6 410.9,12.6 411.4,12.6 412,19.6 412.1,58 412.2,66 412.6,72 412.8,72 413.2,66 413.3,58 413.4,27 413.6,20 414.1,20 414.4,27 414.4,78 416,90 416.4,98 416.7,98 417,90 418.6,78 418.7,47 418.9,40 419.4,40 419.6,47 419.7,76 420,88 420.3,94 420.6,94 421,88 421.2,76 421.3,30.3 421.6,23.3 422.1,23.3 422.4,30.3 422.4,80 423.2,98 423.6,106 423.8,106 424.2,98 424.9,80 425,47 425.2,40 425.8,40 426,47 426.1,78 426.9,88 427.2,92 427.5,92 427.9,88 428.8,78 428.8,56 429.1,49 429.6,49 430,56 430.1,78 430.5,88 430.9,94 431.1,94 431.5,88 431.9,78 432,61.8 432.4,54.8 432.9,54.8 433.2,61.8 433.2,78 433.9,88 434.2,94 434.5,94 434.9,88 435.6,78 435.6,58 436,51 436.5,51 436.8,58 436.9,76 437.2,86 437.6,90 437.9,90 438.2,86 438.6,76 438.6,53 438.9,46 439.4,46 439.6,53 439.7,78 441.3,88 441.7,94 441.9,94 442.3,88 443.9,78 444,65 444.2,58 444.8,58 445,65 445.1,66 445.1,72 445.2,75 445.4,75 445.5,72 445.6,66 445.6,42.8 445.9,35.8 446.4,35.8 446.6,42.8 446.7,62 446.8,70 446.9,74 447.2,74 447.4,70 447.4,62 447.5,63 447.8,56 448.2,56 448.5,63 448.6,64 448.7,72 449,75 449.2,75 449.5,72 449.6,64 449.7,53.6 450.1,46.6 450.6,46.6 451,53.6 451.1,64 451.1,70 451.2,74 451.5,74 451.7,70 451.8,64 451.8,67 452.1,60 452.6,60 453,67 453.1,68 453.3,71 453.7,72 453.9,72 454.3,71 454.6,68 454.6,70 455.1,63 455.6,63 456,70 456.5,83 457.5,85 458.5,93 459.5,92 460.5,91.5 461.3,100 462.5,108 463.5,115.9 466.5,116.1 467.4,93.6 468.1,93.6 469,116.4 472,116.6 472.6,102 473.4,102 474,116.8 497,118.9 497.6,113.8 498.4,113.8 499,119.1 503,119.4 503.6,115.3 504.4,115.3 505,119.6 509,120 509.6,116 510.4,116 511,120.1 515,120.5 515.6,117 516.4,117 517,120.7 543,123 482,164" fill="#fff"/></mask>
<g mask="url(#cB)">
<rect x="314" y="0" width="231" height="170" fill="#3a28ba"/>
<rect x="314" y="0" width="2.3" height="45.8" fill="#fae816"/>
<rect x="314" y="45" width="2.3" height="34.8" fill="url(#gH)"/>
<rect x="314" y="79" width="2.3" height="33.8" fill="url(#gM)"/>
<rect x="314" y="112" width="2.3" height="36.8" fill="url(#gL)"/>
<rect x="316" y="0" width="2.3" height="45" fill="#fae816"/>
<rect x="316" y="44.2" width="2.3" height="34.6" fill="url(#gH)"/>
<rect x="316" y="78" width="2.3" height="34.4" fill="url(#gM)"/>
<rect x="316" y="111.6" width="2.3" height="37" fill="url(#gL)"/>
<rect x="318" y="0" width="2.3" height="44.2" fill="#fae816"/>
<rect x="318" y="43.4" width="2.3" height="34.4" fill="url(#gH)"/>
<rect x="318" y="77" width="2.3" height="34.9" fill="url(#gM)"/>
<rect x="318" y="111.1" width="2.3" height="37.2" fill="url(#gL)"/>
<rect x="320" y="0" width="2.3" height="43.5" fill="#fae816"/>
<rect x="320" y="42.7" width="2.3" height="34.1" fill="url(#gH)"/>
<rect x="320" y="76" width="2.3" height="35.5" fill="url(#gM)"/>
<rect x="320" y="110.7" width="2.3" height="37.5" fill="url(#gL)"/>
<rect x="322" y="0" width="2.3" height="42.7" fill="#fae816"/>
<rect x="322" y="41.9" width="2.3" height="33.9" fill="url(#gH)"/>
<rect x="322" y="75" width="2.3" height="36" fill="url(#gM)"/>
<rect x="322" y="110.2" width="2.3" height="37.7" fill="url(#gL)"/>
<rect x="324" y="0" width="2.3" height="41.9" fill="#fae816"/>
<rect x="324" y="41.1" width="2.3" height="33.7" fill="url(#gH)"/>
<rect x="324" y="74" width="2.3" height="36.6" fill="url(#gM)"/>
<rect x="324" y="109.8" width="2.3" height="37.9" fill="url(#gL)"/>
<rect x="326" y="0" width="2.3" height="41.1" fill="#fae816"/>
<rect x="326" y="40.3" width="2.3" height="33.5" fill="url(#gH)"/>
<rect x="326" y="73" width="2.3" height="37.1" fill="url(#gM)"/>
<rect x="326" y="109.3" width="2.3" height="38.1" fill="url(#gL)"/>
<rect x="328" y="0" width="2.3" height="40.4" fill="#fae816"/>
<rect x="328" y="39.6" width="2.3" height="33.2" fill="url(#gH)"/>
<rect x="328" y="72" width="2.3" height="37.7" fill="url(#gM)"/>
<rect x="328" y="108.9" width="2.3" height="38.4" fill="url(#gL)"/>
<rect x="330" y="0" width="2.3" height="39.6" fill="#fae816"/>
<rect x="330" y="38.8" width="2.3" height="33" fill="url(#gH)"/>
<rect x="330" y="71" width="2.3" height="38.2" fill="url(#gM)"/>
<rect x="330" y="108.4" width="2.3" height="38.6" fill="url(#gL)"/>
<rect x="332" y="0" width="2.3" height="38.8" fill="#fae816"/>
<rect x="332" y="38" width="2.3" height="32.8" fill="url(#gH)"/>
<rect x="332" y="70" width="2.3" height="38.8" fill="url(#gM)"/>
<rect x="332" y="108" width="2.3" height="38.8" fill="url(#gL)"/>
<rect x="334" y="0" width="2.3" height="37.9" fill="#fae816"/>
<rect x="334" y="37.1" width="2.3" height="32.8" fill="url(#gH)"/>
<rect x="334" y="69.1" width="2.3" height="38.8" fill="url(#gM)"/>
<rect x="334" y="107.1" width="2.3" height="39.6" fill="url(#gL)"/>
<rect x="336" y="0" width="2.3" height="36.9" fill="#fae816"/>
<rect x="336" y="36.1" width="2.3" height="32.8" fill="url(#gH)"/>
<rect x="336" y="68.1" width="2.3" height="38.8" fill="url(#gM)"/>
<rect x="336" y="106.1" width="2.3" height="40.4" fill="url(#gL)"/>
<rect x="338" y="0" width="2.3" height="36" fill="#fae816"/>
<rect x="338" y="35.2" width="2.3" height="32.8" fill="url(#gH)"/>
<rect x="338" y="67.2" width="2.3" height="38.8" fill="url(#gM)"/>
<rect x="338" y="105.2" width="2.3" height="41.3" fill="url(#gL)"/>
<rect x="340" y="0" width="2.3" height="35" fill="#fae816"/>
<rect x="340" y="34.2" width="2.3" height="32.8" fill="url(#gH)"/>
<rect x="340" y="66.2" width="2.3" height="38.8" fill="url(#gM)"/>
<rect x="340" y="104.2" width="2.3" height="42.1" fill="url(#gL)"/>
<rect x="342" y="0" width="2.3" height="34.1" fill="#fae816"/>
<rect x="342" y="33.3" width="2.3" height="32.8" fill="url(#gH)"/>
<rect x="342" y="65.3" width="2.3" height="38.8" fill="url(#gM)"/>
<rect x="342" y="103.3" width="2.3" height="42.9" fill="url(#gL)"/>
<rect x="344" y="0" width="2.3" height="33.2" fill="#fae816"/>
<rect x="344" y="32.4" width="2.3" height="32.8" fill="url(#gH)"/>
<rect x="344" y="64.4" width="2.3" height="38.8" fill="url(#gM)"/>
<rect x="344" y="102.4" width="2.3" height="43.7" fill="url(#gL)"/>
<rect x="346" y="0" width="2.3" height="32.2" fill="#fae816"/>
<rect x="346" y="31.4" width="2.3" height="32.8" fill="url(#gH)"/>
<rect x="346" y="63.4" width="2.3" height="38.8" fill="url(#gM)"/>
<rect x="346" y="101.4" width="2.3" height="44.6" fill="url(#gL)"/>
<rect x="348" y="0" width="2.3" height="31.3" fill="#fae816"/>
<rect x="348" y="30.5" width="2.3" height="32.8" fill="url(#gH)"/>
<rect x="348" y="62.5" width="2.3" height="38.8" fill="url(#gM)"/>
<rect x="348" y="100.5" width="2.3" height="45.4" fill="url(#gL)"/>
<rect x="350" y="0" width="2.3" height="30.4" fill="#fae816"/>
<rect x="350" y="29.6" width="2.3" height="32.9" fill="url(#gH)"/>
<rect x="350" y="61.7" width="2.3" height="38.9" fill="url(#gM)"/>
<rect x="350" y="99.7" width="2.3" height="45.9" fill="url(#gL)"/>
<rect x="352" y="0" width="2.3" height="29.6" fill="#fae816"/>
<rect x="352" y="28.8" width="2.3" height="33" fill="url(#gH)"/>
<rect x="352" y="61" width="2.3" height="39" fill="url(#gM)"/>
<rect x="352" y="99.2" width="2.3" height="46.2" fill="url(#gL)"/>
<rect x="354" y="0" width="2.3" height="28.8" fill="#fae816"/>
<rect x="354" y="28" width="2.3" height="33.1" fill="url(#gH)"/>
<rect x="354" y="60.3" width="2.3" height="39.1" fill="url(#gM)"/>
<rect x="354" y="98.7" width="2.3" height="46.5" fill="url(#gL)"/>
<rect x="356" y="0" width="2.3" height="28" fill="#fae816"/>
<rect x="356" y="27.2" width="2.3" height="33.3" fill="url(#gH)"/>
<rect x="356" y="59.7" width="2.3" height="39.3" fill="url(#gM)"/>
<rect x="356" y="98.1" width="2.3" height="46.7" fill="url(#gL)"/>
<rect x="358" y="0" width="2.3" height="27.2" fill="#fae816"/>
<rect x="358" y="26.4" width="2.3" height="33.4" fill="url(#gH)"/>
<rect x="358" y="59" width="2.3" height="39.4" fill="url(#gM)"/>
<rect x="358" y="97.6" width="2.3" height="47" fill="url(#gL)"/>
<rect x="360" y="0" width="2.3" height="26.4" fill="#fae816"/>
<rect x="360" y="25.6" width="2.3" height="33.5" fill="url(#gH)"/>
<rect x="360" y="58.3" width="2.3" height="39.5" fill="url(#gM)"/>
<rect x="360" y="97.1" width="2.3" height="47.3" fill="url(#gL)"/>
<rect x="362" y="0" width="2.3" height="25.6" fill="#fae816"/>
<rect x="362" y="24.8" width="2.3" height="33.7" fill="url(#gH)"/>
<rect x="362" y="57.7" width="2.3" height="39.7" fill="url(#gM)"/>
<rect x="362" y="96.5" width="2.3" height="47.5" fill="url(#gL)"/>
<rect x="364" y="0" width="2.3" height="24.8" fill="#fae816"/>
<rect x="364" y="24" width="2.3" height="33.8" fill="url(#gH)"/>
<rect x="364" y="57" width="2.3" height="39.8" fill="url(#gM)"/>
<rect x="364" y="96" width="2.3" height="47.8" fill="url(#gL)"/>
<rect x="366" y="0" width="2.3" height="23.9" fill="#fae816"/>
<rect x="366" y="23.1" width="2.3" height="34.8" fill="url(#gH)"/>
<rect x="366" y="57.1" width="2.3" height="39.7" fill="url(#gM)"/>
<rect x="366" y="96" width="2.3" height="47.5" fill="url(#gL)"/>
<rect x="368" y="0" width="2.3" height="23" fill="#fae816"/>
<rect x="368" y="22.2" width="2.3" height="35.8" fill="url(#gH)"/>
<rect x="368" y="57.2" width="2.3" height="39.6" fill="url(#gM)"/>
<rect x="368" y="96" width="2.3" height="47.2" fill="url(#gL)"/>
<rect x="370" y="0" width="2.3" height="22.1" fill="#fae816"/>
<rect x="370" y="21.3" width="2.3" height="36.8" fill="url(#gH)"/>
<rect x="370" y="57.3" width="2.3" height="39.5" fill="url(#gM)"/>
<rect x="370" y="96" width="2.3" height="46.9" fill="url(#gL)"/>
<rect x="372" y="0" width="2.3" height="21.2" fill="#fae816"/>
<rect x="372" y="20.4" width="2.3" height="37.8" fill="url(#gH)"/>
<rect x="372" y="57.4" width="2.3" height="39.4" fill="url(#gM)"/>
<rect x="372" y="96" width="2.3" height="46.6" fill="url(#gL)"/>
<rect x="374" y="0" width="2.3" height="20.3" fill="#fae816"/>
<rect x="374" y="19.5" width="2.3" height="38.8" fill="url(#gH)"/>
<rect x="374" y="57.5" width="2.3" height="39.3" fill="url(#gM)"/>
<rect x="374" y="96" width="2.3" height="46.3" fill="url(#gL)"/>
<rect x="376" y="0" width="2.3" height="19.4" fill="#fae816"/>
<rect x="376" y="18.6" width="2.3" height="39.8" fill="url(#gH)"/>
<rect x="376" y="57.6" width="2.3" height="39.2" fill="url(#gM)"/>
<rect x="376" y="96" width="2.3" height="46" fill="url(#gL)"/>
<rect x="378" y="0" width="2.3" height="18.5" fill="#fae816"/>
<rect x="378" y="17.7" width="2.3" height="40.8" fill="url(#gH)"/>
<rect x="378" y="57.7" width="2.3" height="39.1" fill="url(#gM)"/>
<rect x="378" y="96" width="2.3" height="45.7" fill="url(#gL)"/>
<rect x="380" y="0" width="2.3" height="17.6" fill="#fae816"/>
<rect x="380" y="16.8" width="2.3" height="41.8" fill="url(#gH)"/>
<rect x="380" y="57.8" width="2.3" height="39" fill="url(#gM)"/>
<rect x="380" y="96" width="2.3" height="45.4" fill="url(#gL)"/>
<rect x="382" y="0" width="2.3" height="16.7" fill="#fae816"/>
<rect x="382" y="15.9" width="2.3" height="42.8" fill="url(#gH)"/>
<rect x="382" y="57.9" width="2.3" height="38.9" fill="url(#gM)"/>
<rect x="382" y="96" width="2.3" height="45.1" fill="url(#gL)"/>
<rect x="384" y="0" width="2.3" height="15.8" fill="#fae816"/>
<rect x="384" y="15" width="2.3" height="43.8" fill="url(#gH)"/>
<rect x="384" y="58" width="2.3" height="38.8" fill="url(#gM)"/>
<rect x="384" y="96" width="2.3" height="44.8" fill="url(#gL)"/>
<rect x="386" y="0" width="2.3" height="15.1" fill="#fae816"/>
<rect x="386" y="14.3" width="2.3" height="45" fill="url(#gH)"/>
<rect x="386" y="58.5" width="2.3" height="38.5" fill="url(#gM)"/>
<rect x="386" y="96.3" width="2.3" height="44.3" fill="url(#gL)"/>
<rect x="388" y="0" width="2.3" height="14.5" fill="#fae816"/>
<rect x="388" y="13.7" width="2.3" height="46.2" fill="url(#gH)"/>
<rect x="388" y="59.1" width="2.3" height="38.3" fill="url(#gM)"/>
<rect x="388" y="96.5" width="2.3" height="43.7" fill="url(#gL)"/>
<rect x="390" y="0" width="2.3" height="13.8" fill="#fae816"/>
<rect x="390" y="13" width="2.3" height="47.4" fill="url(#gH)"/>
<rect x="390" y="59.6" width="2.3" height="38" fill="url(#gM)"/>
<rect x="390" y="96.8" width="2.3" height="43.2" fill="url(#gL)"/>
<rect x="392" y="0" width="2.3" height="13.1" fill="#fae816"/>
<rect x="392" y="12.3" width="2.3" height="48.6" fill="url(#gH)"/>
<rect x="392" y="60.1" width="2.3" height="37.7" fill="url(#gM)"/>
<rect x="392" y="97.1" width="2.3" height="42.7" fill="url(#gL)"/>
<rect x="394" y="0" width="2.3" height="12.5" fill="#fae816"/>
<rect x="394" y="11.7" width="2.3" height="49.8" fill="url(#gH)"/>
<rect x="394" y="60.7" width="2.3" height="37.5" fill="url(#gM)"/>
<rect x="394" y="97.3" width="2.3" height="42.1" fill="url(#gL)"/>
<rect x="396" y="0" width="2.3" height="11.8" fill="#fae816"/>
<rect x="396" y="11" width="2.3" height="51" fill="url(#gH)"/>
<rect x="396" y="61.2" width="2.3" height="37.2" fill="url(#gM)"/>
<rect x="396" y="97.6" width="2.3" height="41.6" fill="url(#gL)"/>
<rect x="398" y="0" width="2.3" height="11.1" fill="#fae816"/>
<rect x="398" y="10.3" width="2.3" height="52.2" fill="url(#gH)"/>
<rect x="398" y="61.7" width="2.3" height="36.9" fill="url(#gM)"/>
<rect x="398" y="97.9" width="2.3" height="41.1" fill="url(#gL)"/>
<rect x="400" y="0" width="2.3" height="10.7" fill="#fae816"/>
<rect x="400" y="9.9" width="2.3" height="52.7" fill="url(#gH)"/>
<rect x="400" y="61.8" width="2.3" height="36.8" fill="url(#gM)"/>
<rect x="400" y="97.8" width="2.3" height="40.6" fill="url(#gL)"/>
<rect x="402" y="0" width="2.3" height="10.4" fill="#fae816"/>
<rect x="402" y="9.6" width="2.3" height="52.6" fill="url(#gH)"/>
<rect x="402" y="61.4" width="2.3" height="36.9" fill="url(#gM)"/>
<rect x="402" y="97.5" width="2.3" height="40.1" fill="url(#gL)"/>
<rect x="404" y="0" width="2.3" height="10.1" fill="#fae816"/>
<rect x="404" y="9.3" width="2.3" height="52.5" fill="url(#gH)"/>
<rect x="404" y="61" width="2.3" height="36.9" fill="url(#gM)"/>
<rect x="404" y="97.1" width="2.3" height="39.7" fill="url(#gL)"/>
<rect x="406" y="0" width="2.3" height="9.8" fill="#fae816"/>
<rect x="406" y="9" width="2.3" height="52.4" fill="url(#gH)"/>
<rect x="406" y="60.6" width="2.3" height="37" fill="url(#gM)"/>
<rect x="406" y="96.8" width="2.3" height="39.2" fill="url(#gL)"/>
<rect x="408" y="0" width="2.3" height="9.5" fill="#fae816"/>
<rect x="408" y="8.7" width="2.3" height="52.3" fill="url(#gH)"/>
<rect x="408" y="60.2" width="2.3" height="37.1" fill="url(#gM)"/>
<rect x="408" y="96.5" width="2.3" height="38.7" fill="url(#gL)"/>
<rect x="410" y="0" width="2.3" height="9.2" fill="#fae816"/>
<rect x="410" y="8.4" width="2.3" height="52.2" fill="url(#gH)"/>
<rect x="410" y="59.8" width="2.3" height="37.1" fill="url(#gM)"/>
<rect x="410" y="96.1" width="2.3" height="38.3" fill="url(#gL)"/>
<rect x="412" y="0" width="2.3" height="8.9" fill="#fae816"/>
<rect x="412" y="8.1" width="2.3" height="52.1" fill="url(#gH)"/>
<rect x="412" y="59.4" width="2.3" height="37.2" fill="url(#gM)"/>
<rect x="412" y="95.8" width="2.3" height="37.8" fill="url(#gL)"/>
<rect x="414" y="0" width="2.3" height="8.7" fill="#fae816"/>
<rect x="414" y="7.9" width="2.3" height="51.9" fill="url(#gH)"/>
<rect x="414" y="59" width="2.3" height="37.2" fill="url(#gM)"/>
<rect x="414" y="95.4" width="2.3" height="37.4" fill="url(#gL)"/>
<rect x="416" y="0" width="2.3" height="8.4" fill="#fae816"/>
<rect x="416" y="7.6" width="2.3" height="51.8" fill="url(#gH)"/>
<rect x="416" y="58.6" width="2.3" height="37.3" fill="url(#gM)"/>
<rect x="416" y="95.1" width="2.3" height="36.9" fill="url(#gL)"/>
<rect x="418" y="0" width="2.3" height="8.1" fill="#fae816"/>
<rect x="418" y="7.3" width="2.3" height="51.7" fill="url(#gH)"/>
<rect x="418" y="58.2" width="2.3" height="37.3" fill="url(#gM)"/>
<rect x="418" y="94.7" width="2.3" height="36.5" fill="url(#gL)"/>
<rect x="420" y="0" width="2.3" height="7.8" fill="#fae816"/>
<rect x="420" y="7" width="2.3" height="51.6" fill="url(#gH)"/>
<rect x="420" y="57.8" width="2.3" height="37.4" fill="url(#gM)"/>
<rect x="420" y="94.4" width="2.3" height="36" fill="url(#gL)"/>
<rect x="422" y="0" width="2.3" height="7.5" fill="#fae816"/>
<rect x="422" y="6.7" width="2.3" height="51.5" fill="url(#gH)"/>
<rect x="422" y="57.4" width="2.3" height="37.5" fill="url(#gM)"/>
<rect x="422" y="94.1" width="2.3" height="35.5" fill="url(#gL)"/>
<rect x="424" y="0" width="2.3" height="7.2" fill="#fae816"/>
<rect x="424" y="6.4" width="2.3" height="51.4" fill="url(#gH)"/>
<rect x="424" y="57" width="2.3" height="37.5" fill="url(#gM)"/>
<rect x="424" y="93.7" width="2.3" height="35.1" fill="url(#gL)"/>
<rect x="426" y="0" width="2.3" height="6.9" fill="#fae816"/>
<rect x="426" y="6.1" width="2.3" height="51.3" fill="url(#gH)"/>
<rect x="426" y="56.6" width="2.3" height="37.6" fill="url(#gM)"/>
<rect x="426" y="93.4" width="2.3" height="34.6" fill="url(#gL)"/>
<rect x="428" y="0" width="2.3" height="6.7" fill="#fae816"/>
<rect x="428" y="5.9" width="2.3" height="51.1" fill="url(#gH)"/>
<rect x="428" y="56.2" width="2.3" height="37.6" fill="url(#gM)"/>
<rect x="428" y="93" width="2.3" height="34.2" fill="url(#gL)"/>
<rect x="430" y="0" width="2.3" height="6.4" fill="#fae816"/>
<rect x="430" y="5.6" width="2.3" height="51" fill="url(#gH)"/>
<rect x="430" y="55.8" width="2.3" height="37.7" fill="url(#gM)"/>
<rect x="430" y="92.7" width="2.3" height="33.7" fill="url(#gL)"/>
<rect x="432" y="0" width="2.3" height="6.1" fill="#fae816"/>
<rect x="432" y="5.3" width="2.3" height="50.9" fill="url(#gH)"/>
<rect x="432" y="55.4" width="2.3" height="37.7" fill="url(#gM)"/>
<rect x="432" y="92.3" width="2.3" height="33.3" fill="url(#gL)"/>
<rect x="434" y="0" width="2.3" height="5.8" fill="#fae816"/>
<rect x="434" y="5" width="2.3" height="50.8" fill="url(#gH)"/>
<rect x="434" y="55" width="2.3" height="37.8" fill="url(#gM)"/>
<rect x="434" y="92" width="2.3" height="32.8" fill="url(#gL)"/>
<rect x="436" y="0" width="2.3" height="6.8" fill="#fae816"/>
<rect x="436" y="6" width="2.3" height="49.8" fill="url(#gH)"/>
<rect x="436" y="55" width="2.3" height="37.4" fill="url(#gM)"/>
<rect x="436" y="91.6" width="2.3" height="32.7" fill="url(#gL)"/>
<rect x="438" y="0" width="2.3" height="7.8" fill="#fae816"/>
<rect x="438" y="7" width="2.3" height="48.8" fill="url(#gH)"/>
<rect x="438" y="55" width="2.3" height="37" fill="url(#gM)"/>
<rect x="438" y="91.2" width="2.3" height="32.6" fill="url(#gL)"/>
<rect x="440" y="0" width="2.3" height="8.8" fill="#fae816"/>
<rect x="440" y="8" width="2.3" height="47.8" fill="url(#gH)"/>
<rect x="440" y="55" width="2.3" height="36.6" fill="url(#gM)"/>
<rect x="440" y="90.8" width="2.3" height="32.5" fill="url(#gL)"/>
<rect x="442" y="0" width="2.3" height="9.8" fill="#fae816"/>
<rect x="442" y="9" width="2.3" height="46.8" fill="url(#gH)"/>
<rect x="442" y="55" width="2.3" height="36.2" fill="url(#gM)"/>
<rect x="442" y="90.4" width="2.3" height="32.4" fill="url(#gL)"/>
<rect x="444" y="0" width="2.3" height="10.8" fill="#fae816"/>
<rect x="444" y="10" width="2.3" height="45.8" fill="url(#gH)"/>
<rect x="444" y="55" width="2.3" height="35.8" fill="url(#gM)"/>
<rect x="444" y="90" width="2.3" height="32.3" fill="url(#gL)"/>
<rect x="446" y="0" width="2.3" height="11.8" fill="#fae816"/>
<rect x="446" y="11" width="2.3" height="44.8" fill="url(#gH)"/>
<rect x="446" y="55" width="2.3" height="35.4" fill="url(#gM)"/>
<rect x="446" y="89.6" width="2.3" height="32.2" fill="url(#gL)"/>
<rect x="448" y="0" width="2.3" height="12.8" fill="#fae816"/>
<rect x="448" y="12" width="2.3" height="43.8" fill="url(#gH)"/>
<rect x="448" y="55" width="2.3" height="35" fill="url(#gM)"/>
<rect x="448" y="89.2" width="2.3" height="32.1" fill="url(#gL)"/>
<rect x="450" y="0" width="2.3" height="13.8" fill="#fae816"/>
<rect x="450" y="13" width="2.3" height="42.8" fill="url(#gH)"/>
<rect x="450" y="55" width="2.3" height="34.6" fill="url(#gM)"/>
<rect x="450" y="88.8" width="2.3" height="32" fill="url(#gL)"/>
<rect x="452" y="0" width="2.3" height="14.8" fill="#fae816"/>
<rect x="452" y="14" width="2.3" height="41.8" fill="url(#gH)"/>
<rect x="452" y="55" width="2.3" height="34.2" fill="url(#gM)"/>
<rect x="452" y="88.4" width="2.3" height="31.9" fill="url(#gL)"/>
<rect x="454" y="0" width="2.3" height="15.8" fill="#fae816"/>
<rect x="454" y="15" width="2.3" height="40.8" fill="url(#gH)"/>
<rect x="454" y="55" width="2.3" height="33.8" fill="url(#gM)"/>
<rect x="454" y="88" width="2.3" height="31.8" fill="url(#gL)"/>
<rect x="456" y="0" width="2.3" height="16" fill="#fae816"/>
<rect x="456" y="15.2" width="2.3" height="40.6" fill="url(#gH)"/>
<rect x="456" y="55.1" width="2.3" height="33.8" fill="url(#gM)"/>
<rect x="456" y="88.1" width="2.3" height="31.8" fill="url(#gL)"/>
<rect x="458" y="0" width="2.3" height="16.2" fill="#fae816"/>
<rect x="458" y="15.4" width="2.3" height="40.5" fill="url(#gH)"/>
<rect x="458" y="55.1" width="2.3" height="33.8" fill="url(#gM)"/>
<rect x="458" y="88.2" width="2.3" height="31.8" fill="url(#gL)"/>
<rect x="460" y="0" width="2.3" height="16.5" fill="#fae816"/>
<rect x="460" y="15.7" width="2.3" height="40.3" fill="url(#gH)"/>
<rect x="460" y="55.2" width="2.3" height="33.9" fill="url(#gM)"/>
<rect x="460" y="88.3" width="2.3" height="31.8" fill="url(#gL)"/>
<rect x="462" y="0" width="2.3" height="16.7" fill="#fae816"/>
<rect x="462" y="15.9" width="2.3" height="40.2" fill="url(#gH)"/>
<rect x="462" y="55.3" width="2.3" height="33.9" fill="url(#gM)"/>
<rect x="462" y="88.4" width="2.3" height="31.8" fill="url(#gL)"/>
<rect x="464" y="0" width="2.3" height="16.9" fill="#fae816"/>
<rect x="464" y="16.1" width="2.3" height="40" fill="url(#gH)"/>
<rect x="464" y="55.3" width="2.3" height="33.9" fill="url(#gM)"/>
<rect x="464" y="88.4" width="2.3" height="31.8" fill="url(#gL)"/>
<rect x="466" y="0" width="2.3" height="17.1" fill="#fae816"/>
<rect x="466" y="16.3" width="2.3" height="39.9" fill="url(#gH)"/>
<rect x="466" y="55.4" width="2.3" height="33.9" fill="url(#gM)"/>
<rect x="466" y="88.5" width="2.3" height="31.8" fill="url(#gL)"/>
<rect x="468" y="0" width="2.3" height="17.4" fill="#fae816"/>
<rect x="468" y="16.6" width="2.3" height="39.7" fill="url(#gH)"/>
<rect x="468" y="55.5" width="2.3" height="34" fill="url(#gM)"/>
<rect x="468" y="88.6" width="2.3" height="31.8" fill="url(#gL)"/>
<rect x="470" y="0" width="2.3" height="17.6" fill="#fae816"/>
<rect x="470" y="16.8" width="2.3" height="39.6" fill="url(#gH)"/>
<rect x="470" y="55.5" width="2.3" height="34" fill="url(#gM)"/>
<rect x="470" y="88.7" width="2.3" height="31.8" fill="url(#gL)"/>
<rect x="472" y="0" width="2.3" height="17.8" fill="#fae816"/>
<rect x="472" y="17" width="2.3" height="39.4" fill="url(#gH)"/>
<rect x="472" y="55.6" width="2.3" height="34" fill="url(#gM)"/>
<rect x="472" y="88.8" width="2.3" height="31.8" fill="url(#gL)"/>
<rect x="474" y="0" width="2.3" height="18" fill="#fae816"/>
<rect x="474" y="17.2" width="2.3" height="39.2" fill="url(#gH)"/>
<rect x="474" y="55.7" width="2.3" height="34" fill="url(#gM)"/>
<rect x="474" y="88.9" width="2.3" height="31.8" fill="url(#gL)"/>
<rect x="476" y="0" width="2.3" height="18.2" fill="#fae816"/>
<rect x="476" y="17.4" width="2.3" height="39.1" fill="url(#gH)"/>
<rect x="476" y="55.7" width="2.3" height="34" fill="url(#gM)"/>
<rect x="476" y="89" width="2.3" height="31.8" fill="url(#gL)"/>
<rect x="478" y="0" width="2.3" height="18.5" fill="#fae816"/>
<rect x="478" y="17.7" width="2.3" height="38.9" fill="url(#gH)"/>
<rect x="478" y="55.8" width="2.3" height="34.1" fill="url(#gM)"/>
<rect x="478" y="89.1" width="2.3" height="31.8" fill="url(#gL)"/>
<rect x="480" y="0" width="2.3" height="18.7" fill="#fae816"/>
<rect x="480" y="17.9" width="2.3" height="38.8" fill="url(#gH)"/>
<rect x="480" y="55.9" width="2.3" height="34.1" fill="url(#gM)"/>
<rect x="480" y="89.2" width="2.3" height="31.8" fill="url(#gL)"/>
<rect x="482" y="0" width="2.3" height="18.9" fill="#fae816"/>
<rect x="482" y="18.1" width="2.3" height="38.6" fill="url(#gH)"/>
<rect x="482" y="55.9" width="2.3" height="34.1" fill="url(#gM)"/>
<rect x="482" y="89.2" width="2.3" height="31.8" fill="url(#gL)"/>
<rect x="484" y="0" width="2.3" height="19.1" fill="#fae816"/>
<rect x="484" y="18.3" width="2.3" height="38.5" fill="url(#gH)"/>
<rect x="484" y="56" width="2.3" height="34.1" fill="url(#gM)"/>
<rect x="484" y="89.3" width="2.3" height="31.8" fill="url(#gL)"/>
<rect x="486" y="0" width="2.3" height="19.4" fill="#fae816"/>
<rect x="486" y="18.6" width="2.3" height="38.3" fill="url(#gH)"/>
<rect x="486" y="56.1" width="2.3" height="34.2" fill="url(#gM)"/>
<rect x="486" y="89.4" width="2.3" height="31.8" fill="url(#gL)"/>
<rect x="488" y="0" width="2.3" height="19.6" fill="#fae816"/>
<rect x="488" y="18.8" width="2.3" height="38.2" fill="url(#gH)"/>
<rect x="488" y="56.1" width="2.3" height="34.2" fill="url(#gM)"/>
<rect x="488" y="89.5" width="2.3" height="31.8" fill="url(#gL)"/>
<rect x="490" y="0" width="2.3" height="19.8" fill="#fae816"/>
<rect x="490" y="19" width="2.3" height="38" fill="url(#gH)"/>
<rect x="490" y="56.2" width="2.3" height="34.2" fill="url(#gM)"/>
<rect x="490" y="89.6" width="2.3" height="31.8" fill="url(#gL)"/>
<rect x="492" y="0" width="2.3" height="20" fill="#fae816"/>
<rect x="492" y="19.2" width="2.3" height="37.8" fill="url(#gH)"/>
<rect x="492" y="56.3" width="2.3" height="34.2" fill="url(#gM)"/>
<rect x="492" y="89.7" width="2.3" height="31.8" fill="url(#gL)"/>
<rect x="494" y="0" width="2.3" height="20.2" fill="#fae816"/>
<rect x="494" y="19.4" width="2.3" height="37.7" fill="url(#gH)"/>
<rect x="494" y="56.3" width="2.3" height="34.2" fill="url(#gM)"/>
<rect x="494" y="89.8" width="2.3" height="31.8" fill="url(#gL)"/>
<rect x="496" y="0" width="2.3" height="20.5" fill="#fae816"/>
<rect x="496" y="19.7" width="2.3" height="37.5" fill="url(#gH)"/>
<rect x="496" y="56.4" width="2.3" height="34.3" fill="url(#gM)"/>
<rect x="496" y="89.9" width="2.3" height="31.8" fill="url(#gL)"/>
<rect x="498" y="0" width="2.3" height="20.7" fill="#fae816"/>
<rect x="498" y="19.9" width="2.3" height="37.4" fill="url(#gH)"/>
<rect x="498" y="56.5" width="2.3" height="34.3" fill="url(#gM)"/>
<rect x="498" y="90" width="2.3" height="31.8" fill="url(#gL)"/>
<rect x="500" y="0" width="2.3" height="20.9" fill="#fae816"/>
<rect x="500" y="20.1" width="2.3" height="37.2" fill="url(#gH)"/>
<rect x="500" y="56.5" width="2.3" height="34.3" fill="url(#gM)"/>
<rect x="500" y="90" width="2.3" height="31.8" fill="url(#gL)"/>
<rect x="502" y="0" width="2.3" height="21.1" fill="#fae816"/>
<rect x="502" y="20.3" width="2.3" height="37.1" fill="url(#gH)"/>
<rect x="502" y="56.6" width="2.3" height="34.3" fill="url(#gM)"/>
<rect x="502" y="90.1" width="2.3" height="31.8" fill="url(#gL)"/>
<rect x="504" y="0" width="2.3" height="21.4" fill="#fae816"/>
<rect x="504" y="20.6" width="2.3" height="36.9" fill="url(#gH)"/>
<rect x="504" y="56.7" width="2.3" height="34.4" fill="url(#gM)"/>
<rect x="504" y="90.2" width="2.3" height="31.8" fill="url(#gL)"/>
<rect x="506" y="0" width="2.3" height="21.6" fill="#fae816"/>
<rect x="506" y="20.8" width="2.3" height="36.8" fill="url(#gH)"/>
<rect x="506" y="56.7" width="2.3" height="34.4" fill="url(#gM)"/>
<rect x="506" y="90.3" width="2.3" height="31.8" fill="url(#gL)"/>
<rect x="508" y="0" width="2.3" height="21.8" fill="#fae816"/>
<rect x="508" y="21" width="2.3" height="36.6" fill="url(#gH)"/>
<rect x="508" y="56.8" width="2.3" height="34.4" fill="url(#gM)"/>
<rect x="508" y="90.4" width="2.3" height="31.8" fill="url(#gL)"/>
<rect x="510" y="0" width="2.3" height="22" fill="#fae816"/>
<rect x="510" y="21.2" width="2.3" height="36.4" fill="url(#gH)"/>
<rect x="510" y="56.9" width="2.3" height="34.4" fill="url(#gM)"/>
<rect x="510" y="90.5" width="2.3" height="31.8" fill="url(#gL)"/>
<rect x="512" y="0" width="2.3" height="22.2" fill="#fae816"/>
<rect x="512" y="21.4" width="2.3" height="36.3" fill="url(#gH)"/>
<rect x="512" y="56.9" width="2.3" height="34.4" fill="url(#gM)"/>
<rect x="512" y="90.6" width="2.3" height="31.8" fill="url(#gL)"/>
<rect x="514" y="0" width="2.3" height="22.5" fill="#fae816"/>
<rect x="514" y="21.7" width="2.3" height="36.1" fill="url(#gH)"/>
<rect x="514" y="57" width="2.3" height="34.5" fill="url(#gM)"/>
<rect x="514" y="90.7" width="2.3" height="31.8" fill="url(#gL)"/>
<rect x="516" y="0" width="2.3" height="22.7" fill="#fae816"/>
<rect x="516" y="21.9" width="2.3" height="36" fill="url(#gH)"/>
<rect x="516" y="57.1" width="2.3" height="34.5" fill="url(#gM)"/>
<rect x="516" y="90.8" width="2.3" height="31.8" fill="url(#gL)"/>
<rect x="518" y="0" width="2.3" height="22.9" fill="#fae816"/>
<rect x="518" y="22.1" width="2.3" height="35.8" fill="url(#gH)"/>
<rect x="518" y="57.1" width="2.3" height="34.5" fill="url(#gM)"/>
<rect x="518" y="90.8" width="2.3" height="31.8" fill="url(#gL)"/>
<rect x="520" y="0" width="2.3" height="23.1" fill="#fae816"/>
<rect x="520" y="22.3" width="2.3" height="35.7" fill="url(#gH)"/>
<rect x="520" y="57.2" width="2.3" height="34.5" fill="url(#gM)"/>
<rect x="520" y="90.9" width="2.3" height="31.8" fill="url(#gL)"/>
<rect x="522" y="0" width="2.3" height="23.4" fill="#fae816"/>
<rect x="522" y="22.6" width="2.3" height="35.5" fill="url(#gH)"/>
<rect x="522" y="57.3" width="2.3" height="34.6" fill="url(#gM)"/>
<rect x="522" y="91" width="2.3" height="31.8" fill="url(#gL)"/>
<rect x="524" y="0" width="2.3" height="23.6" fill="#fae816"/>
<rect x="524" y="22.8" width="2.3" height="35.4" fill="url(#gH)"/>
<rect x="524" y="57.3" width="2.3" height="34.6" fill="url(#gM)"/>
<rect x="524" y="91.1" width="2.3" height="31.8" fill="url(#gL)"/>
<rect x="526" y="0" width="2.3" height="23.8" fill="#fae816"/>
<rect x="526" y="23" width="2.3" height="35.2" fill="url(#gH)"/>
<rect x="526" y="57.4" width="2.3" height="34.6" fill="url(#gM)"/>
<rect x="526" y="91.2" width="2.3" height="31.8" fill="url(#gL)"/>
<rect x="528" y="0" width="2.3" height="24" fill="#fae816"/>
<rect x="528" y="23.2" width="2.3" height="35" fill="url(#gH)"/>
<rect x="528" y="57.5" width="2.3" height="34.6" fill="url(#gM)"/>
<rect x="528" y="91.3" width="2.3" height="31.8" fill="url(#gL)"/>
<rect x="530" y="0" width="2.3" height="24.2" fill="#fae816"/>
<rect x="530" y="23.4" width="2.3" height="34.9" fill="url(#gH)"/>
<rect x="530" y="57.5" width="2.3" height="34.6" fill="url(#gM)"/>
<rect x="530" y="91.4" width="2.3" height="31.8" fill="url(#gL)"/>
<rect x="532" y="0" width="2.3" height="24.5" fill="#fae816"/>
<rect x="532" y="23.7" width="2.3" height="34.7" fill="url(#gH)"/>
<rect x="532" y="57.6" width="2.3" height="34.7" fill="url(#gM)"/>
<rect x="532" y="91.5" width="2.3" height="31.8" fill="url(#gL)"/>
<rect x="534" y="0" width="2.3" height="24.7" fill="#fae816"/>
<rect x="534" y="23.9" width="2.3" height="34.6" fill="url(#gH)"/>
<rect x="534" y="57.7" width="2.3" height="34.7" fill="url(#gM)"/>
<rect x="534" y="91.6" width="2.3" height="31.8" fill="url(#gL)"/>
<rect x="536" y="0" width="2.3" height="24.9" fill="#fae816"/>
<rect x="536" y="24.1" width="2.3" height="34.4" fill="url(#gH)"/>
<rect x="536" y="57.7" width="2.3" height="34.7" fill="url(#gM)"/>
<rect x="536" y="91.6" width="2.3" height="31.8" fill="url(#gL)"/>
<rect x="538" y="0" width="2.3" height="25.1" fill="#fae816"/>
<rect x="538" y="24.3" width="2.3" height="34.3" fill="url(#gH)"/>
<rect x="538" y="57.8" width="2.3" height="34.7" fill="url(#gM)"/>
<rect x="538" y="91.7" width="2.3" height="31.8" fill="url(#gL)"/>
<rect x="540" y="0" width="2.3" height="25.4" fill="#fae816"/>
<rect x="540" y="24.6" width="2.3" height="34.1" fill="url(#gH)"/>
<rect x="540" y="57.9" width="2.3" height="34.8" fill="url(#gM)"/>
<rect x="540" y="91.8" width="2.3" height="31.8" fill="url(#gL)"/>
<rect x="542" y="0" width="2.3" height="25.6" fill="#fae816"/>
<rect x="542" y="24.8" width="2.3" height="34" fill="url(#gH)"/>
<rect x="542" y="57.9" width="2.3" height="34.8" fill="url(#gM)"/>
<rect x="542" y="91.9" width="2.3" height="31.8" fill="url(#gL)"/>
<rect x="544" y="0" width="2.3" height="25.8" fill="#fae816"/>
<rect x="544" y="25" width="2.3" height="33.8" fill="url(#gH)"/>
<rect x="544" y="58" width="2.3" height="34.8" fill="url(#gM)"/>
<rect x="544" y="92" width="2.3" height="31.8" fill="url(#gL)"/>
<rect x="380" y="8" width="78" height="45" fill="url(#hz)"/><rect x="453.6" y="109.7" width="2.1" height="53.8" fill="url(#dk)"/>
<rect x="327.3" y="130.1" width="2.0" height="22.1" fill="url(#dk)"/>
<rect x="412.1" y="126.2" width="1.2" height="33.6" fill="url(#dk)"/>
<rect x="403.0" y="112.8" width="1.6" height="46.2" fill="url(#dk)"/>
<rect x="377.4" y="129.7" width="1.3" height="26.9" fill="url(#dk)"/>
<rect x="459.2" y="124.3" width="2.1" height="39.6" fill="url(#dk)"/>
<rect x="379.5" y="109.1" width="1.1" height="47.7" fill="url(#dk)"/>
<rect x="319.0" y="117.6" width="1.4" height="33.8" fill="url(#dk)"/>
<rect x="370.1" y="123.8" width="2.0" height="32.2" fill="url(#dk)"/>
<rect x="396.3" y="108.7" width="1.1" height="49.6" fill="url(#dk)"/>
<rect x="362.1" y="123.3" width="0.9" height="32.0" fill="url(#dk)"/>
<rect x="459.8" y="113.5" width="1.7" height="50.6" fill="url(#dk)"/>
<rect x="444.6" y="130.0" width="1.9" height="32.6" fill="url(#dk)"/>
<rect x="446.5" y="131.7" width="1.8" height="31.1" fill="url(#dk)"/>
<rect x="366.3" y="136.9" width="2.2" height="18.8" fill="url(#dk)"/>
<rect x="338.4" y="129.5" width="1.8" height="23.7" fill="url(#dk)"/>
<rect x="381.9" y="122.7" width="1.5" height="34.3" fill="url(#dk)"/>
<rect x="449.1" y="132.9" width="1.5" height="30.1" fill="url(#dk)"/>
<rect x="366.3" y="135.0" width="2.0" height="20.6" fill="url(#dk)"/>
<rect x="381.8" y="135.6" width="1.6" height="21.4" fill="url(#dk)"/>
<rect x="419.9" y="114.7" width="1.4" height="45.8" fill="url(#dk)"/>
<rect x="362.1" y="113.0" width="1.7" height="42.3" fill="url(#dk)"/>
<rect x="446.7" y="135.3" width="1.1" height="27.5" fill="url(#dk)"/>
<rect x="359.9" y="129.2" width="2.1" height="25.9" fill="url(#dk)"/>
<rect x="388.1" y="127.5" width="1.5" height="30.1" fill="url(#dk)"/>
<rect x="400.3" y="114.2" width="1.2" height="44.4" fill="url(#dk)"/>
<rect x="389.2" y="126.7" width="2.1" height="31.0" fill="url(#dk)"/>
<rect x="325.9" y="129.8" width="1.9" height="22.2" fill="url(#dk)"/>
<rect x="446.6" y="130.3" width="1.0" height="32.5" fill="url(#dk)"/>
<rect x="323.5" y="116.2" width="1.7" height="35.6" fill="url(#dk)"/>
<rect x="347.9" y="111.2" width="2.0" height="42.8" fill="url(#dk)"/>
<rect x="390.7" y="115.3" width="2.0" height="42.5" fill="url(#dk)"/>
<rect x="345.5" y="120.7" width="2.0" height="33.1" fill="url(#dk)"/>
<rect x="419.0" y="118.9" width="0.7" height="41.5" fill="url(#dk)"/>
<rect x="339.9" y="110.5" width="1.7" height="42.8" fill="url(#dk)"/>
<rect x="453.4" y="129.9" width="0.7" height="33.6" fill="url(#dk)"/>
<rect x="318.1" y="132.4" width="1.1" height="18.9" fill="url(#dk)"/>
<rect x="337.8" y="128.7" width="1.0" height="24.3" fill="url(#dk)"/>
<rect x="370.9" y="137.7" width="0.8" height="18.4" fill="url(#dk)"/>
<rect x="337.0" y="118.3" width="0.8" height="34.7" fill="url(#dk)"/>
<rect x="404.2" y="111.4" width="1.8" height="47.6" fill="url(#dk)"/>
<rect x="363.9" y="121.5" width="0.7" height="34.0" fill="url(#dk)"/>
<rect x="426.1" y="135.1" width="1.8" height="25.9" fill="url(#dk)"/>
<rect x="424.6" y="129.2" width="2.0" height="31.7" fill="url(#dk)"/>
<rect x="383.6" y="127.8" width="1.0" height="29.4" fill="url(#dk)"/>
<rect x="360.9" y="121.4" width="0.9" height="33.7" fill="url(#dk)"/>
<rect x="441.8" y="125.5" width="0.9" height="36.9" fill="url(#dk)"/>
<rect x="372.0" y="112.3" width="1.5" height="43.8" fill="url(#dk)"/>
<rect x="454.2" y="126.2" width="1.1" height="37.3" fill="url(#dk)"/>
<rect x="375.9" y="124.7" width="0.7" height="31.8" fill="url(#dk)"/>
<rect x="335.4" y="109.0" width="0.8" height="43.9" fill="url(#dk)"/>
<rect x="338.4" y="127.1" width="0.8" height="26.1" fill="url(#dk)"/>
<rect x="388.7" y="136.0" width="2.2" height="21.6" fill="url(#dk)"/>
<rect x="459.2" y="121.3" width="1.0" height="42.6" fill="url(#dk)"/>
<rect x="351.4" y="126.7" width="1.6" height="27.6" fill="url(#dk)"/>
<rect x="431.0" y="115.7" width="1.8" height="45.7" fill="url(#dk)"/>
<rect x="376.3" y="108.1" width="1.5" height="48.4" fill="url(#dk)"/>
<rect x="320.1" y="111.3" width="1.3" height="40.2" fill="url(#dk)"/>
<rect x="419.9" y="111.0" width="1.1" height="49.4" fill="url(#dk)"/>
<rect x="341.4" y="114.5" width="1.0" height="38.9" fill="url(#dk)"/>
<rect x="390.5" y="83.9" width="1.3" height="31.0" fill="url(#bl)"/>
<rect x="345.8" y="113.3" width="1.9" height="33.2" fill="url(#bl)"/>
<rect x="377.9" y="96.1" width="1.4" height="16.3" fill="url(#bl)"/>
<rect x="375.6" y="78.2" width="1.4" height="17.3" fill="url(#bl)"/>
<rect x="431.4" y="93.4" width="1.2" height="38.0" fill="url(#bl)"/>
<rect x="403.5" y="114.3" width="1.1" height="24.3" fill="url(#bl)"/>
<rect x="317.8" y="74.6" width="1.6" height="22.6" fill="url(#bl)"/>
<rect x="436.9" y="70.7" width="1.6" height="26.3" fill="url(#bl)"/>
<rect x="374.5" y="79.4" width="1.3" height="29.7" fill="url(#bl)"/>
<rect x="325.7" y="86.8" width="1.1" height="38.4" fill="url(#bl)"/>
<rect x="326.1" y="78.7" width="1.7" height="29.3" fill="url(#bl)"/>
<rect x="371.8" y="103.9" width="1.3" height="24.9" fill="url(#bl)"/>
<rect x="332.7" y="73.6" width="0.9" height="36.3" fill="url(#bl)"/>
<rect x="407.9" y="101.2" width="1.9" height="15.6" fill="url(#bl)"/>
<rect x="410.6" y="102.6" width="1.7" height="27.4" fill="url(#bl)"/>
<rect x="366.8" y="105.9" width="1.3" height="21.7" fill="url(#bl)"/>
<rect x="391.3" y="113.0" width="1.3" height="35.1" fill="url(#bl)"/>
<rect x="450.1" y="83.4" width="1.8" height="20.8" fill="url(#bl)"/>
<rect x="385.9" y="89.2" width="1.0" height="32.0" fill="url(#bl)"/>
<rect x="448.2" y="106.8" width="1.5" height="17.4" fill="url(#bl)"/>
<rect x="366.6" y="76.6" width="2.0" height="25.4" fill="url(#bl)"/>
<rect x="324.7" y="110.3" width="0.8" height="39.7" fill="url(#bl)"/>
<rect x="409.0" y="83.3" width="0.9" height="20.8" fill="url(#bl)"/>
<rect x="412.3" y="89.7" width="1.6" height="28.1" fill="url(#bl)"/>
<rect x="331.3" y="112.7" width="1.4" height="33.9" fill="url(#bl)"/>
<rect x="328.9" y="102.2" width="1.4" height="21.4" fill="url(#bl)"/>
<rect x="444.8" y="101.6" width="1.3" height="25.1" fill="url(#bl)"/>
<rect x="459.3" y="95.8" width="1.7" height="18.6" fill="url(#bl)"/>
<rect x="379.0" y="96.8" width="0.7" height="37.0" fill="url(#bl)"/>
<rect x="341.2" y="91.7" width="1.4" height="25.1" fill="url(#bl)"/>
<rect x="418.0" y="101.7" width="1.9" height="26.8" fill="url(#bl)"/>
<rect x="454.5" y="103.6" width="1.1" height="31.5" fill="url(#bl)"/>
<rect x="425.4" y="80.1" width="1.8" height="30.5" fill="url(#bl)"/>
<rect x="373.4" y="114.0" width="1.6" height="30.9" fill="url(#bl)"/>
<rect x="316.7" y="102.0" width="1.3" height="37.1" fill="url(#bl)"/>
<rect x="409.3" y="70.8" width="1.8" height="38.6" fill="url(#bl)"/>
<rect x="420.8" y="110.7" width="1.5" height="37.1" fill="url(#bl)"/>
<rect x="329.6" y="104.5" width="1.8" height="20.0" fill="url(#bl)"/>
<rect x="422.9" y="78.6" width="1.5" height="35.1" fill="url(#bl)"/>
<rect x="335.0" y="89.5" width="1.5" height="21.3" fill="url(#bl)"/>
<rect x="397.1" y="79.2" width="1.3" height="39.2" fill="url(#bl)"/>
<rect x="325.6" y="91.8" width="0.7" height="35.9" fill="url(#bl)"/>
<rect x="410.5" y="91.8" width="1.7" height="31.9" fill="url(#bl)"/>
<rect x="363.6" y="92.6" width="1.0" height="15.7" fill="url(#bl)"/>
<rect x="326.6" y="77.8" width="1.7" height="33.8" fill="url(#bl)"/>
<rect x="428.0" y="87.0" width="0.7" height="29.7" fill="url(#lt)"/>
<rect x="438.0" y="66.5" width="0.6" height="19.5" fill="url(#lt)"/>
<rect x="388.1" y="60.4" width="0.7" height="23.9" fill="url(#lt)"/>
<rect x="450.9" y="81.5" width="0.7" height="19.6" fill="url(#lt)"/>
<rect x="385.4" y="72.3" width="1.0" height="26.2" fill="url(#lt)"/>
<rect x="390.5" y="96.6" width="0.8" height="11.9" fill="url(#lt)"/>
<rect x="433.0" y="85.9" width="0.7" height="29.9" fill="url(#lt)"/>
<rect x="411.7" y="93.6" width="0.7" height="12.3" fill="url(#lt)"/>
<rect x="409.2" y="81.2" width="0.7" height="31.3" fill="url(#lt)"/>
<rect x="429.7" y="72.3" width="0.9" height="15.8" fill="url(#lt)"/>
<rect x="387.2" y="71.1" width="0.6" height="33.9" fill="url(#lt)"/>
<rect x="344.0" y="75.2" width="1.0" height="19.1" fill="url(#lt)"/>
<rect x="369.8" y="78.3" width="0.5" height="14.2" fill="url(#lt)"/>
<rect x="385.3" y="95.8" width="0.7" height="33.0" fill="url(#lt)"/>
<rect x="385.2" y="97.2" width="0.9" height="18.2" fill="url(#lt)"/>
<rect x="342.4" y="67.6" width="0.6" height="27.0" fill="url(#lt)"/>
<rect x="376.7" y="91.8" width="0.7" height="15.8" fill="url(#lt)"/>
<rect x="431.1" y="76.0" width="0.9" height="30.6" fill="url(#lt)"/>
<rect x="372.8" y="97.0" width="1.0" height="22.6" fill="url(#lt)"/>
<rect x="416.2" y="89.7" width="1.1" height="28.8" fill="url(#lt)"/>
<rect x="438.7" y="90.1" width="1.1" height="34.5" fill="url(#lt)"/>
<rect x="366.5" y="86.8" width="0.9" height="19.2" fill="url(#lt)"/>
<rect x="379.4" y="98.3" width="0.6" height="18.9" fill="url(#lt)"/>
<rect x="389.6" y="67.5" width="1.0" height="34.0" fill="url(#lt)"/>
<rect x="345.9" y="74.0" width="0.5" height="19.0" fill="url(#lt)"/>
<rect x="444.7" y="90.5" width="1.0" height="20.9" fill="url(#lt)"/>
<rect x="397.8" y="93.3" width="0.6" height="19.7" fill="url(#lt)"/>
<rect x="365.6" y="66.0" width="0.9" height="17.9" fill="url(#lt)"/>
<rect x="445.8" y="65.7" width="0.6" height="15.1" fill="url(#lt)"/>
<rect x="361.4" y="70.0" width="0.8" height="18.6" fill="url(#lt)"/>
<rect x="360.8" y="84.4" width="0.6" height="18.4" fill="url(#lt)"/>
<rect x="376.6" y="62.5" width="1.0" height="13.6" fill="url(#lt)"/>
<rect x="436.4" y="91.2" width="0.8" height="13.3" fill="url(#lt)"/>
<rect x="395.4" y="73.5" width="1.0" height="29.2" fill="url(#lt)"/>
<rect x="406.3" y="99.9" width="0.7" height="19.8" fill="url(#lt)"/>
</g>
<rect x="388.2" y="10.7" width="0.8" height="25.3" fill="#f5d060" opacity="0.55"/>
<rect x="358.8" y="24" width="0.8" height="12" fill="#f5c050" opacity="0.55"/>
<rect x="339.8" y="37.7" width="0.8" height="8.299999999999997" fill="#f2c060" opacity="0.55"/>
<rect x="341.1" y="37" width="0.8" height="13" fill="#f0c868" opacity="0.55"/>
<rect x="393.6" y="46" width="0.8" height="14" fill="#9ed8a0" opacity="0.55"/>
<rect x="361.6" y="30" width="0.8" height="25" fill="#f0c060" opacity="0.55"/>
<rect x="378.4" y="30" width="0.8" height="22" fill="#f0c868" opacity="0.55"/>
<rect x="415.4" y="30" width="0.8" height="30" fill="#b8dca0" opacity="0.55"/>
<rect x="441.9" y="50" width="0.8" height="22" fill="#a0dcc8" opacity="0.55"/>
<rect x="426.9" y="45" width="0.8" height="25" fill="#a8dcc0" opacity="0.55"/>
<mask id="cC" maskUnits="userSpaceOnUse" x="0" y="0" width="550" height="396"><polygon points="165,338.2 165,252.9 166.5,251 168,254.1 170,244 171.5,245.3 173.5,243.4 175,247.8 177,252.9 178.5,256 180,252.9 181.5,254 183,245.3 184,235.2 185.5,241.5 187.5,234 189,247.8 190,263 191,252.9 192.5,227.5 194.2,246 196.5,244.5 198.3,255 200.6,236 202,244.5 207.4,218.7 209.7,240 212,241.5 214,220 216.5,214.2 218.8,218.7 221,240.7 223,234.6 226.4,224 229.1,222.5 230.9,206.6 234,204.3 235.5,206.6 235.7,240 235.7,250 235.8,256 236.1,256 236.1,250 236.2,240 236.2,230.4 236.8,223.4 237.3,223.4 237.9,230.4 238,246 238,256 238,262 238.3,262 238.4,256 238.4,246 238.4,231 239.1,224 239.6,224 240.2,231 240.2,244 240.2,252 240.2,258 240.6,258 240.6,252 240.6,244 240.7,236 241.2,229 241.8,229 242.3,236 242.4,248 242.4,256 242.3,262 242.6,262 242.5,256 242.5,248 242.6,225.3 243.2,218.3 243.7,218.3 244.2,225.3 244.3,246 244.4,258 244.5,266 244.8,266 244.9,258 245,246 245.1,233.4 245.7,226.4 246.2,226.4 246.8,233.4 246.8,250 246.9,262 247.2,270 247.5,270 247.8,262 247.9,250 247.9,232 248.6,225 249.1,225 249.7,232 249.7,250 249.9,262 250.2,270 250.5,270 250.7,262 250.9,250 250.9,237.7 251.6,230.7 252.1,230.7 252.7,237.7 252.7,248 252.8,256 253.1,262 253.4,262 253.7,256 253.8,248 253.8,230.4 254.4,223.4 254.9,223.4 255.6,230.4 255.6,250 256.1,260 256.4,266 256.7,266 257.1,260 257.5,250 257.6,218 258.1,211 258.6,211 259.2,218 259.3,252 259.5,264 259.7,272 260,272 260.2,264 260.4,252 260.4,219.4 261,212.4 261.5,212.4 262.1,219.4 262.2,250 262.3,264 262.6,272 262.9,272 263.2,264 263.3,250 263.4,217.2 264,210.2 264.5,210.2 265.1,217.2 265.1,252 265.2,266 265.5,274 265.8,274 266,266 266.2,252 266.2,221 266.9,214 267.4,214 267.9,221 268,248 268.1,258 268.3,264 268.6,264 268.8,258 268.9,248 268.9,229 269.5,222 270,222 270.6,229 270.7,246 270.8,256 271,262 271.3,262 271.5,256 271.6,246 271.7,216 272.3,214.6 274.2,216 274.3,268 274.5,272 274.6,272 276,269 277.6,271 277.7,280 277.8,286 278.2,292 278.4,292 278.8,286 278.9,280 279,272 280,269.5 281.2,274 281.2,285 281.7,292 282.1,296 282.3,296 282.7,292 283.1,285 283.2,269 283.6,262 284.1,262 284.6,269 284.7,288 286.8,295 287.2,298 287.4,298 287.8,295 289.9,288 290,293 291.5,288 293,292 293.1,294 293.2,296 293.4,298 293.6,298 293.8,296 293.9,294 294,270 294.2,263 294.8,263 295,270 295.1,285 295.8,292 296.1,296 296.4,296 296.8,292 297.4,285 297.5,276 297.9,269 298.4,269 298.7,276 298.8,285 299.1,292 299.5,296 299.8,296 300.1,292 300.4,285 300.5,281 300.9,274 301.4,274 301.7,281 301.8,290 302.4,295 302.7,298 303,298 303.4,295 303.9,290 304,290.5 304.8,283.5 305.2,283.5 306,290.5 306.1,290 306.4,296 306.7,300 307,300 307.4,296 307.6,290 307.7,281 308,274 308.5,274 308.9,281 308.9,286 309.2,294 309.6,298 309.9,298 310.2,294 310.6,286 310.6,275.5 311.1,268.5 311.6,268.5 312,275.5 312.1,294 312.2,298 312.6,300 312.9,300 313.2,298 313.4,294 313.5,302 314,295 314.5,295 315,302 315.1,297 315.6,300 316,302 316.2,302 316.6,300 317.1,297 317.2,296 318.5,291.5 320.5,291 322,295 322.1,298 322.2,301 322.4,303 322.6,303 322.8,301 322.9,298 323,298 323.6,291 324.1,291 324.8,298 325.5,312.4 339,313.8 339.6,310.7 340.4,310.7 341,314 343.5,314.3 344.1,310.7 344.9,310.7 345.5,314.5 348.5,314.8 349.1,311 349.9,311 350.5,315.1 352.5,315.3 353.1,311.5 353.9,311.5 354.5,315.5 398.5,320.2 328.5,354.8" fill="#fff"/></mask>
<g mask="url(#cC)">
<rect x="164" y="195" width="236" height="165" fill="#3a28ba"/>
<rect x="164" y="195" width="2.3" height="45.8" fill="#fae816"/>
<rect x="164" y="240" width="2.3" height="34.8" fill="url(#gH)"/>
<rect x="164" y="274" width="2.3" height="42.8" fill="url(#gM)"/>
<rect x="164" y="316" width="2.3" height="32.8" fill="url(#gL)"/>
<rect x="166" y="195" width="2.3" height="45.1" fill="#fae816"/>
<rect x="166" y="239.3" width="2.3" height="34.6" fill="url(#gH)"/>
<rect x="166" y="273.1" width="2.3" height="43.1" fill="url(#gM)"/>
<rect x="166" y="315.4" width="2.3" height="33.3" fill="url(#gL)"/>
<rect x="168" y="195" width="2.3" height="44.3" fill="#fae816"/>
<rect x="168" y="238.5" width="2.3" height="34.5" fill="url(#gH)"/>
<rect x="168" y="272.2" width="2.3" height="43.5" fill="url(#gM)"/>
<rect x="168" y="314.9" width="2.3" height="33.7" fill="url(#gL)"/>
<rect x="170" y="195" width="2.3" height="43.6" fill="#fae816"/>
<rect x="170" y="237.8" width="2.3" height="34.3" fill="url(#gH)"/>
<rect x="170" y="271.3" width="2.3" height="43.8" fill="url(#gM)"/>
<rect x="170" y="314.3" width="2.3" height="34.2" fill="url(#gL)"/>
<rect x="172" y="195" width="2.3" height="42.8" fill="#fae816"/>
<rect x="172" y="237" width="2.3" height="34.1" fill="url(#gH)"/>
<rect x="172" y="270.3" width="2.3" height="44.2" fill="url(#gM)"/>
<rect x="172" y="313.7" width="2.3" height="34.6" fill="url(#gL)"/>
<rect x="174" y="195" width="2.3" height="42.1" fill="#fae816"/>
<rect x="174" y="236.3" width="2.3" height="33.9" fill="url(#gH)"/>
<rect x="174" y="269.4" width="2.3" height="44.5" fill="url(#gM)"/>
<rect x="174" y="313.1" width="2.3" height="35.1" fill="url(#gL)"/>
<rect x="176" y="195" width="2.3" height="41.3" fill="#fae816"/>
<rect x="176" y="235.5" width="2.3" height="33.8" fill="url(#gH)"/>
<rect x="176" y="268.5" width="2.3" height="44.9" fill="url(#gM)"/>
<rect x="176" y="312.6" width="2.3" height="35.5" fill="url(#gL)"/>
<rect x="178" y="195" width="2.3" height="40.6" fill="#fae816"/>
<rect x="178" y="234.8" width="2.3" height="33.6" fill="url(#gH)"/>
<rect x="178" y="267.6" width="2.3" height="45.2" fill="url(#gM)"/>
<rect x="178" y="312" width="2.3" height="36" fill="url(#gL)"/>
<rect x="180" y="195" width="2.3" height="39.9" fill="#fae816"/>
<rect x="180" y="234.1" width="2.3" height="33.4" fill="url(#gH)"/>
<rect x="180" y="266.7" width="2.3" height="45.5" fill="url(#gM)"/>
<rect x="180" y="311.4" width="2.3" height="36.5" fill="url(#gL)"/>
<rect x="182" y="195" width="2.3" height="39.1" fill="#fae816"/>
<rect x="182" y="233.3" width="2.3" height="33.3" fill="url(#gH)"/>
<rect x="182" y="265.8" width="2.3" height="45.9" fill="url(#gM)"/>
<rect x="182" y="310.9" width="2.3" height="36.9" fill="url(#gL)"/>
<rect x="184" y="195" width="2.3" height="38.4" fill="#fae816"/>
<rect x="184" y="232.6" width="2.3" height="33.1" fill="url(#gH)"/>
<rect x="184" y="264.9" width="2.3" height="46.2" fill="url(#gM)"/>
<rect x="184" y="310.3" width="2.3" height="37.4" fill="url(#gL)"/>
<rect x="186" y="195" width="2.3" height="37.6" fill="#fae816"/>
<rect x="186" y="231.8" width="2.3" height="32.9" fill="url(#gH)"/>
<rect x="186" y="263.9" width="2.3" height="46.6" fill="url(#gM)"/>
<rect x="186" y="309.7" width="2.3" height="37.8" fill="url(#gL)"/>
<rect x="188" y="195" width="2.3" height="36.9" fill="#fae816"/>
<rect x="188" y="231.1" width="2.3" height="32.7" fill="url(#gH)"/>
<rect x="188" y="263" width="2.3" height="46.9" fill="url(#gM)"/>
<rect x="188" y="309.1" width="2.3" height="38.3" fill="url(#gL)"/>
<rect x="190" y="195" width="2.3" height="36.1" fill="#fae816"/>
<rect x="190" y="230.3" width="2.3" height="32.6" fill="url(#gH)"/>
<rect x="190" y="262.1" width="2.3" height="47.3" fill="url(#gM)"/>
<rect x="190" y="308.6" width="2.3" height="38.7" fill="url(#gL)"/>
<rect x="192" y="195" width="2.3" height="35.4" fill="#fae816"/>
<rect x="192" y="229.6" width="2.3" height="32.4" fill="url(#gH)"/>
<rect x="192" y="261.2" width="2.3" height="47.6" fill="url(#gM)"/>
<rect x="192" y="308" width="2.3" height="39.2" fill="url(#gL)"/>
<rect x="194" y="195" width="2.3" height="34.7" fill="#fae816"/>
<rect x="194" y="228.9" width="2.3" height="32.2" fill="url(#gH)"/>
<rect x="194" y="260.3" width="2.3" height="47.9" fill="url(#gM)"/>
<rect x="194" y="307.4" width="2.3" height="39.7" fill="url(#gL)"/>
<rect x="196" y="195" width="2.3" height="33.9" fill="#fae816"/>
<rect x="196" y="228.1" width="2.3" height="32.1" fill="url(#gH)"/>
<rect x="196" y="259.4" width="2.3" height="48.3" fill="url(#gM)"/>
<rect x="196" y="306.9" width="2.3" height="40.1" fill="url(#gL)"/>
<rect x="198" y="195" width="2.3" height="33.2" fill="#fae816"/>
<rect x="198" y="227.4" width="2.3" height="31.9" fill="url(#gH)"/>
<rect x="198" y="258.5" width="2.3" height="48.6" fill="url(#gM)"/>
<rect x="198" y="306.3" width="2.3" height="40.6" fill="url(#gL)"/>
<rect x="200" y="195" width="2.3" height="32.2" fill="#fae816"/>
<rect x="200" y="226.4" width="2.3" height="31.9" fill="url(#gH)"/>
<rect x="200" y="257.5" width="2.3" height="49" fill="url(#gM)"/>
<rect x="200" y="305.7" width="2.3" height="41" fill="url(#gL)"/>
<rect x="202" y="195" width="2.3" height="30.9" fill="#fae816"/>
<rect x="202" y="225.1" width="2.3" height="32.1" fill="url(#gH)"/>
<rect x="202" y="256.4" width="2.3" height="49.4" fill="url(#gM)"/>
<rect x="202" y="305" width="2.3" height="41.4" fill="url(#gL)"/>
<rect x="204" y="195" width="2.3" height="29.6" fill="#fae816"/>
<rect x="204" y="223.8" width="2.3" height="32.3" fill="url(#gH)"/>
<rect x="204" y="255.3" width="2.3" height="49.8" fill="url(#gM)"/>
<rect x="204" y="304.3" width="2.3" height="41.8" fill="url(#gL)"/>
<rect x="206" y="195" width="2.3" height="28.4" fill="#fae816"/>
<rect x="206" y="222.6" width="2.3" height="32.5" fill="url(#gH)"/>
<rect x="206" y="254.3" width="2.3" height="50.2" fill="url(#gM)"/>
<rect x="206" y="303.7" width="2.3" height="42.2" fill="url(#gL)"/>
<rect x="208" y="195" width="2.3" height="27.1" fill="#fae816"/>
<rect x="208" y="221.3" width="2.3" height="32.7" fill="url(#gH)"/>
<rect x="208" y="253.2" width="2.3" height="50.6" fill="url(#gM)"/>
<rect x="208" y="303" width="2.3" height="42.6" fill="url(#gL)"/>
<rect x="210" y="195" width="2.3" height="25.8" fill="#fae816"/>
<rect x="210" y="220" width="2.3" height="32.9" fill="url(#gH)"/>
<rect x="210" y="252.1" width="2.3" height="51" fill="url(#gM)"/>
<rect x="210" y="302.3" width="2.3" height="43" fill="url(#gL)"/>
<rect x="212" y="195" width="2.3" height="24.6" fill="#fae816"/>
<rect x="212" y="218.8" width="2.3" height="33.1" fill="url(#gH)"/>
<rect x="212" y="251.1" width="2.3" height="51.4" fill="url(#gM)"/>
<rect x="212" y="301.7" width="2.3" height="43.4" fill="url(#gL)"/>
<rect x="214" y="195" width="2.3" height="23.3" fill="#fae816"/>
<rect x="214" y="217.5" width="2.3" height="33.3" fill="url(#gH)"/>
<rect x="214" y="250" width="2.3" height="51.8" fill="url(#gM)"/>
<rect x="214" y="301" width="2.3" height="43.8" fill="url(#gL)"/>
<rect x="216" y="195" width="2.3" height="22" fill="#fae816"/>
<rect x="216" y="216.2" width="2.3" height="33.5" fill="url(#gH)"/>
<rect x="216" y="248.9" width="2.3" height="52.2" fill="url(#gM)"/>
<rect x="216" y="300.3" width="2.3" height="44.2" fill="url(#gL)"/>
<rect x="218" y="195" width="2.3" height="20.8" fill="#fae816"/>
<rect x="218" y="215" width="2.3" height="33.7" fill="url(#gH)"/>
<rect x="218" y="247.9" width="2.3" height="52.6" fill="url(#gM)"/>
<rect x="218" y="299.7" width="2.3" height="44.6" fill="url(#gL)"/>
<rect x="220" y="195" width="2.3" height="19.5" fill="#fae816"/>
<rect x="220" y="213.7" width="2.3" height="33.9" fill="url(#gH)"/>
<rect x="220" y="246.8" width="2.3" height="53" fill="url(#gM)"/>
<rect x="220" y="299" width="2.3" height="45" fill="url(#gL)"/>
<rect x="222" y="195" width="2.3" height="18.2" fill="#fae816"/>
<rect x="222" y="212.4" width="2.3" height="34.1" fill="url(#gH)"/>
<rect x="222" y="245.7" width="2.3" height="53.4" fill="url(#gM)"/>
<rect x="222" y="298.3" width="2.3" height="45.4" fill="url(#gL)"/>
<rect x="224" y="195" width="2.3" height="17" fill="#fae816"/>
<rect x="224" y="211.2" width="2.3" height="34.3" fill="url(#gH)"/>
<rect x="224" y="244.7" width="2.3" height="53.8" fill="url(#gM)"/>
<rect x="224" y="297.7" width="2.3" height="45.8" fill="url(#gL)"/>
<rect x="226" y="195" width="2.3" height="15.7" fill="#fae816"/>
<rect x="226" y="209.9" width="2.3" height="34.5" fill="url(#gH)"/>
<rect x="226" y="243.6" width="2.3" height="54.2" fill="url(#gM)"/>
<rect x="226" y="297" width="2.3" height="46.2" fill="url(#gL)"/>
<rect x="228" y="195" width="2.3" height="14.4" fill="#fae816"/>
<rect x="228" y="208.6" width="2.3" height="34.7" fill="url(#gH)"/>
<rect x="228" y="242.5" width="2.3" height="54.6" fill="url(#gM)"/>
<rect x="228" y="296.3" width="2.3" height="46.6" fill="url(#gL)"/>
<rect x="230" y="195" width="2.3" height="14" fill="#fae816"/>
<rect x="230" y="208.2" width="2.3" height="34.8" fill="url(#gH)"/>
<rect x="230" y="242.2" width="2.3" height="54" fill="url(#gM)"/>
<rect x="230" y="295.4" width="2.3" height="46.8" fill="url(#gL)"/>
<rect x="232" y="195" width="2.3" height="14.4" fill="#fae816"/>
<rect x="232" y="208.6" width="2.3" height="34.8" fill="url(#gH)"/>
<rect x="232" y="242.6" width="2.3" height="52.4" fill="url(#gM)"/>
<rect x="232" y="294.2" width="2.3" height="46.8" fill="url(#gL)"/>
<rect x="234" y="195" width="2.3" height="14.8" fill="#fae816"/>
<rect x="234" y="209" width="2.3" height="34.8" fill="url(#gH)"/>
<rect x="234" y="243" width="2.3" height="50.8" fill="url(#gM)"/>
<rect x="234" y="293" width="2.3" height="46.8" fill="url(#gL)"/>
<rect x="236" y="195" width="2.3" height="15.2" fill="#fae816"/>
<rect x="236" y="209.4" width="2.3" height="34.8" fill="url(#gH)"/>
<rect x="236" y="243.4" width="2.3" height="49.2" fill="url(#gM)"/>
<rect x="236" y="291.8" width="2.3" height="46.8" fill="url(#gL)"/>
<rect x="238" y="195" width="2.3" height="15.6" fill="#fae816"/>
<rect x="238" y="209.8" width="2.3" height="34.8" fill="url(#gH)"/>
<rect x="238" y="243.8" width="2.3" height="47.6" fill="url(#gM)"/>
<rect x="238" y="290.6" width="2.3" height="46.8" fill="url(#gL)"/>
<rect x="240" y="195" width="2.3" height="16" fill="#fae816"/>
<rect x="240" y="210.2" width="2.3" height="34.8" fill="url(#gH)"/>
<rect x="240" y="244.2" width="2.3" height="46" fill="url(#gM)"/>
<rect x="240" y="289.4" width="2.3" height="46.8" fill="url(#gL)"/>
<rect x="242" y="195" width="2.3" height="16.4" fill="#fae816"/>
<rect x="242" y="210.6" width="2.3" height="34.8" fill="url(#gH)"/>
<rect x="242" y="244.6" width="2.3" height="44.4" fill="url(#gM)"/>
<rect x="242" y="288.2" width="2.3" height="46.8" fill="url(#gL)"/>
<rect x="244" y="195" width="2.3" height="16.8" fill="#fae816"/>
<rect x="244" y="211" width="2.3" height="34.8" fill="url(#gH)"/>
<rect x="244" y="245" width="2.3" height="42.8" fill="url(#gM)"/>
<rect x="244" y="287" width="2.3" height="46.8" fill="url(#gL)"/>
<rect x="246" y="195" width="2.3" height="17.2" fill="#fae816"/>
<rect x="246" y="211.4" width="2.3" height="34.8" fill="url(#gH)"/>
<rect x="246" y="245.4" width="2.3" height="41.2" fill="url(#gM)"/>
<rect x="246" y="285.8" width="2.3" height="46.8" fill="url(#gL)"/>
<rect x="248" y="195" width="2.3" height="17.6" fill="#fae816"/>
<rect x="248" y="211.8" width="2.3" height="34.8" fill="url(#gH)"/>
<rect x="248" y="245.8" width="2.3" height="39.6" fill="url(#gM)"/>
<rect x="248" y="284.6" width="2.3" height="46.8" fill="url(#gL)"/>
<rect x="250" y="195" width="2.3" height="17.8" fill="#fae816"/>
<rect x="250" y="212" width="2.3" height="34.9" fill="url(#gH)"/>
<rect x="250" y="246.1" width="2.3" height="38.7" fill="url(#gM)"/>
<rect x="250" y="284" width="2.3" height="46.4" fill="url(#gL)"/>
<rect x="252" y="195" width="2.3" height="17.8" fill="#fae816"/>
<rect x="252" y="212" width="2.3" height="35" fill="url(#gH)"/>
<rect x="252" y="246.2" width="2.3" height="38.4" fill="url(#gM)"/>
<rect x="252" y="283.9" width="2.3" height="45.7" fill="url(#gL)"/>
<rect x="254" y="195" width="2.3" height="17.8" fill="#fae816"/>
<rect x="254" y="212" width="2.3" height="35.2" fill="url(#gH)"/>
<rect x="254" y="246.4" width="2.3" height="38.2" fill="url(#gM)"/>
<rect x="254" y="283.8" width="2.3" height="44.9" fill="url(#gL)"/>
<rect x="256" y="195" width="2.3" height="17.8" fill="#fae816"/>
<rect x="256" y="212" width="2.3" height="35.4" fill="url(#gH)"/>
<rect x="256" y="246.6" width="2.3" height="37.9" fill="url(#gM)"/>
<rect x="256" y="283.7" width="2.3" height="44.2" fill="url(#gL)"/>
<rect x="258" y="195" width="2.3" height="17.8" fill="#fae816"/>
<rect x="258" y="212" width="2.3" height="35.5" fill="url(#gH)"/>
<rect x="258" y="246.8" width="2.3" height="37.7" fill="url(#gM)"/>
<rect x="258" y="283.6" width="2.3" height="43.4" fill="url(#gL)"/>
<rect x="260" y="195" width="2.3" height="17.8" fill="#fae816"/>
<rect x="260" y="212" width="2.3" height="35.7" fill="url(#gH)"/>
<rect x="260" y="246.9" width="2.3" height="37.4" fill="url(#gM)"/>
<rect x="260" y="283.5" width="2.3" height="42.7" fill="url(#gL)"/>
<rect x="262" y="195" width="2.3" height="17.8" fill="#fae816"/>
<rect x="262" y="212" width="2.3" height="35.9" fill="url(#gH)"/>
<rect x="262" y="247.1" width="2.3" height="37.2" fill="url(#gM)"/>
<rect x="262" y="283.5" width="2.3" height="41.9" fill="url(#gL)"/>
<rect x="264" y="195" width="2.3" height="17.8" fill="#fae816"/>
<rect x="264" y="212" width="2.3" height="36" fill="url(#gH)"/>
<rect x="264" y="247.2" width="2.3" height="36.9" fill="url(#gM)"/>
<rect x="264" y="283.4" width="2.3" height="41.2" fill="url(#gL)"/>
<rect x="266" y="195" width="2.3" height="17.8" fill="#fae816"/>
<rect x="266" y="212" width="2.3" height="36.2" fill="url(#gH)"/>
<rect x="266" y="247.4" width="2.3" height="36.7" fill="url(#gM)"/>
<rect x="266" y="283.3" width="2.3" height="40.4" fill="url(#gL)"/>
<rect x="268" y="195" width="2.3" height="17.8" fill="#fae816"/>
<rect x="268" y="212" width="2.3" height="36.4" fill="url(#gH)"/>
<rect x="268" y="247.6" width="2.3" height="36.4" fill="url(#gM)"/>
<rect x="268" y="283.2" width="2.3" height="39.7" fill="url(#gL)"/>
<rect x="270" y="195" width="2.3" height="17.8" fill="#fae816"/>
<rect x="270" y="212" width="2.3" height="36.5" fill="url(#gH)"/>
<rect x="270" y="247.8" width="2.3" height="36.2" fill="url(#gM)"/>
<rect x="270" y="283.1" width="2.3" height="38.9" fill="url(#gL)"/>
<rect x="272" y="195" width="2.3" height="17.8" fill="#fae816"/>
<rect x="272" y="212" width="2.3" height="36.7" fill="url(#gH)"/>
<rect x="272" y="247.9" width="2.3" height="35.9" fill="url(#gM)"/>
<rect x="272" y="283" width="2.3" height="38.2" fill="url(#gL)"/>
<rect x="274" y="195" width="2.3" height="18.1" fill="#fae816"/>
<rect x="274" y="212.3" width="2.3" height="36.7" fill="url(#gH)"/>
<rect x="274" y="248.2" width="2.3" height="35.6" fill="url(#gM)"/>
<rect x="274" y="283" width="2.3" height="36.8" fill="url(#gL)"/>
<rect x="276" y="195" width="2.3" height="18.6" fill="#fae816"/>
<rect x="276" y="212.8" width="2.3" height="36.5" fill="url(#gH)"/>
<rect x="276" y="248.5" width="2.3" height="35.3" fill="url(#gM)"/>
<rect x="276" y="283" width="2.3" height="34.8" fill="url(#gL)"/>
<rect x="278" y="195" width="2.3" height="19.2" fill="#fae816"/>
<rect x="278" y="213.4" width="2.3" height="36.3" fill="url(#gH)"/>
<rect x="278" y="248.9" width="2.3" height="34.9" fill="url(#gM)"/>
<rect x="278" y="283" width="2.3" height="32.8" fill="url(#gL)"/>
<rect x="280" y="195" width="2.3" height="19.7" fill="#fae816"/>
<rect x="280" y="213.9" width="2.3" height="36.2" fill="url(#gH)"/>
<rect x="280" y="249.3" width="2.3" height="34.5" fill="url(#gM)"/>
<rect x="280" y="283" width="2.3" height="30.8" fill="url(#gL)"/>
<rect x="282" y="195" width="2.3" height="20.3" fill="#fae816"/>
<rect x="282" y="214.5" width="2.3" height="36" fill="url(#gH)"/>
<rect x="282" y="249.6" width="2.3" height="34.2" fill="url(#gM)"/>
<rect x="282" y="283" width="2.3" height="28.8" fill="url(#gL)"/>
<rect x="284" y="195" width="2.3" height="20.8" fill="#fae816"/>
<rect x="284" y="215" width="2.3" height="35.8" fill="url(#gH)"/>
<rect x="284" y="250" width="2.3" height="33.8" fill="url(#gM)"/>
<rect x="284" y="283" width="2.3" height="26.8" fill="url(#gL)"/>
<rect x="286" y="195" width="2.3" height="20.8" fill="#fae816"/>
<rect x="286" y="215" width="2.3" height="35.8" fill="url(#gH)"/>
<rect x="286" y="250" width="2.3" height="33.8" fill="url(#gM)"/>
<rect x="286" y="283" width="2.3" height="26.9" fill="url(#gL)"/>
<rect x="288" y="195" width="2.3" height="20.8" fill="#fae816"/>
<rect x="288" y="215" width="2.3" height="35.8" fill="url(#gH)"/>
<rect x="288" y="250" width="2.3" height="33.8" fill="url(#gM)"/>
<rect x="288" y="283" width="2.3" height="27" fill="url(#gL)"/>
<rect x="290" y="195" width="2.3" height="20.8" fill="#fae816"/>
<rect x="290" y="215" width="2.3" height="35.8" fill="url(#gH)"/>
<rect x="290" y="250" width="2.3" height="33.8" fill="url(#gM)"/>
<rect x="290" y="283" width="2.3" height="27.1" fill="url(#gL)"/>
<rect x="292" y="195" width="2.3" height="20.8" fill="#fae816"/>
<rect x="292" y="215" width="2.3" height="35.8" fill="url(#gH)"/>
<rect x="292" y="250" width="2.3" height="33.8" fill="url(#gM)"/>
<rect x="292" y="283" width="2.3" height="27.2" fill="url(#gL)"/>
<rect x="294" y="195" width="2.3" height="20.8" fill="#fae816"/>
<rect x="294" y="215" width="2.3" height="35.8" fill="url(#gH)"/>
<rect x="294" y="250" width="2.3" height="33.8" fill="url(#gM)"/>
<rect x="294" y="283" width="2.3" height="27.3" fill="url(#gL)"/>
<rect x="296" y="195" width="2.3" height="20.8" fill="#fae816"/>
<rect x="296" y="215" width="2.3" height="35.8" fill="url(#gH)"/>
<rect x="296" y="250" width="2.3" height="33.8" fill="url(#gM)"/>
<rect x="296" y="283" width="2.3" height="27.4" fill="url(#gL)"/>
<rect x="298" y="195" width="2.3" height="20.8" fill="#fae816"/>
<rect x="298" y="215" width="2.3" height="35.8" fill="url(#gH)"/>
<rect x="298" y="250" width="2.3" height="33.8" fill="url(#gM)"/>
<rect x="298" y="283" width="2.3" height="27.5" fill="url(#gL)"/>
<rect x="300" y="195" width="2.3" height="20.8" fill="#fae816"/>
<rect x="300" y="215" width="2.3" height="35.8" fill="url(#gH)"/>
<rect x="300" y="250" width="2.3" height="33.8" fill="url(#gM)"/>
<rect x="300" y="283" width="2.3" height="27.6" fill="url(#gL)"/>
<rect x="302" y="195" width="2.3" height="20.8" fill="#fae816"/>
<rect x="302" y="215" width="2.3" height="35.8" fill="url(#gH)"/>
<rect x="302" y="250" width="2.3" height="33.8" fill="url(#gM)"/>
<rect x="302" y="283" width="2.3" height="27.7" fill="url(#gL)"/>
<rect x="304" y="195" width="2.3" height="20.8" fill="#fae816"/>
<rect x="304" y="215" width="2.3" height="35.8" fill="url(#gH)"/>
<rect x="304" y="250" width="2.3" height="33.8" fill="url(#gM)"/>
<rect x="304" y="283" width="2.3" height="27.8" fill="url(#gL)"/>
<rect x="306" y="195" width="2.3" height="20.8" fill="#fae816"/>
<rect x="306" y="215" width="2.3" height="35.8" fill="url(#gH)"/>
<rect x="306" y="250" width="2.3" height="33.8" fill="url(#gM)"/>
<rect x="306" y="283" width="2.3" height="27.9" fill="url(#gL)"/>
<rect x="308" y="195" width="2.3" height="20.8" fill="#fae816"/>
<rect x="308" y="215" width="2.3" height="35.8" fill="url(#gH)"/>
<rect x="308" y="250" width="2.3" height="33.8" fill="url(#gM)"/>
<rect x="308" y="283" width="2.3" height="28" fill="url(#gL)"/>
<rect x="310" y="195" width="2.3" height="20.8" fill="#fae816"/>
<rect x="310" y="215" width="2.3" height="35.8" fill="url(#gH)"/>
<rect x="310" y="250" width="2.3" height="33.8" fill="url(#gM)"/>
<rect x="310" y="283" width="2.3" height="28.1" fill="url(#gL)"/>
<rect x="312" y="195" width="2.3" height="20.8" fill="#fae816"/>
<rect x="312" y="215" width="2.3" height="35.8" fill="url(#gH)"/>
<rect x="312" y="250" width="2.3" height="33.8" fill="url(#gM)"/>
<rect x="312" y="283" width="2.3" height="28.2" fill="url(#gL)"/>
<rect x="314" y="195" width="2.3" height="20.8" fill="#fae816"/>
<rect x="314" y="215" width="2.3" height="35.8" fill="url(#gH)"/>
<rect x="314" y="250" width="2.3" height="33.8" fill="url(#gM)"/>
<rect x="314" y="283" width="2.3" height="28.3" fill="url(#gL)"/>
<rect x="316" y="195" width="2.3" height="20.8" fill="#fae816"/>
<rect x="316" y="215" width="2.3" height="35.8" fill="url(#gH)"/>
<rect x="316" y="250" width="2.3" height="33.8" fill="url(#gM)"/>
<rect x="316" y="283" width="2.3" height="28.4" fill="url(#gL)"/>
<rect x="318" y="195" width="2.3" height="20.8" fill="#fae816"/>
<rect x="318" y="215" width="2.3" height="35.8" fill="url(#gH)"/>
<rect x="318" y="250" width="2.3" height="33.8" fill="url(#gM)"/>
<rect x="318" y="283" width="2.3" height="28.5" fill="url(#gL)"/>
<rect x="320" y="195" width="2.3" height="20.8" fill="#fae816"/>
<rect x="320" y="215" width="2.3" height="35.8" fill="url(#gH)"/>
<rect x="320" y="250" width="2.3" height="33.8" fill="url(#gM)"/>
<rect x="320" y="283" width="2.3" height="28.6" fill="url(#gL)"/>
<rect x="322" y="195" width="2.3" height="20.8" fill="#fae816"/>
<rect x="322" y="215" width="2.3" height="35.8" fill="url(#gH)"/>
<rect x="322" y="250" width="2.3" height="33.8" fill="url(#gM)"/>
<rect x="322" y="283" width="2.3" height="28.7" fill="url(#gL)"/>
<rect x="324" y="195" width="2.3" height="20.8" fill="#fae816"/>
<rect x="324" y="215" width="2.3" height="35.8" fill="url(#gH)"/>
<rect x="324" y="250" width="2.3" height="33.8" fill="url(#gM)"/>
<rect x="324" y="283" width="2.3" height="28.8" fill="url(#gL)"/>
<rect x="326" y="195" width="2.3" height="18.8" fill="#fae816"/>
<rect x="326" y="213" width="2.3" height="37.8" fill="url(#gH)"/>
<rect x="326" y="250" width="2.3" height="36.6" fill="url(#gM)"/>
<rect x="326" y="285.8" width="2.3" height="27.2" fill="url(#gL)"/>
<rect x="328" y="195" width="2.3" height="16.8" fill="#fae816"/>
<rect x="328" y="211" width="2.3" height="39.8" fill="url(#gH)"/>
<rect x="328" y="250" width="2.3" height="39.4" fill="url(#gM)"/>
<rect x="328" y="288.6" width="2.3" height="25.6" fill="url(#gL)"/>
<rect x="330" y="195" width="2.3" height="15.9" fill="#fae816"/>
<rect x="330" y="210.1" width="2.3" height="40.8" fill="url(#gH)"/>
<rect x="330" y="250.1" width="2.3" height="40.8" fill="url(#gM)"/>
<rect x="330" y="290.1" width="2.3" height="24.8" fill="url(#gL)"/>
<rect x="332" y="195" width="2.3" height="16" fill="#fae816"/>
<rect x="332" y="210.2" width="2.3" height="40.8" fill="url(#gH)"/>
<rect x="332" y="250.2" width="2.3" height="40.8" fill="url(#gM)"/>
<rect x="332" y="290.2" width="2.3" height="24.9" fill="url(#gL)"/>
<rect x="334" y="195" width="2.3" height="16.2" fill="#fae816"/>
<rect x="334" y="210.4" width="2.3" height="40.8" fill="url(#gH)"/>
<rect x="334" y="250.4" width="2.3" height="40.8" fill="url(#gM)"/>
<rect x="334" y="290.4" width="2.3" height="24.9" fill="url(#gL)"/>
<rect x="336" y="195" width="2.3" height="16.3" fill="#fae816"/>
<rect x="336" y="210.5" width="2.3" height="40.8" fill="url(#gH)"/>
<rect x="336" y="250.5" width="2.3" height="40.8" fill="url(#gM)"/>
<rect x="336" y="290.5" width="2.3" height="25" fill="url(#gL)"/>
<rect x="338" y="195" width="2.3" height="16.4" fill="#fae816"/>
<rect x="338" y="210.6" width="2.3" height="40.8" fill="url(#gH)"/>
<rect x="338" y="250.6" width="2.3" height="40.8" fill="url(#gM)"/>
<rect x="338" y="290.6" width="2.3" height="25.1" fill="url(#gL)"/>
<rect x="340" y="195" width="2.3" height="16.6" fill="#fae816"/>
<rect x="340" y="210.8" width="2.3" height="40.8" fill="url(#gH)"/>
<rect x="340" y="250.8" width="2.3" height="40.8" fill="url(#gM)"/>
<rect x="340" y="290.8" width="2.3" height="25.1" fill="url(#gL)"/>
<rect x="342" y="195" width="2.3" height="16.7" fill="#fae816"/>
<rect x="342" y="210.9" width="2.3" height="40.8" fill="url(#gH)"/>
<rect x="342" y="250.9" width="2.3" height="40.8" fill="url(#gM)"/>
<rect x="342" y="290.9" width="2.3" height="25.2" fill="url(#gL)"/>
<rect x="344" y="195" width="2.3" height="16.9" fill="#fae816"/>
<rect x="344" y="211.1" width="2.3" height="40.8" fill="url(#gH)"/>
<rect x="344" y="251.1" width="2.3" height="40.8" fill="url(#gM)"/>
<rect x="344" y="291.1" width="2.3" height="25.2" fill="url(#gL)"/>
<rect x="346" y="195" width="2.3" height="17" fill="#fae816"/>
<rect x="346" y="211.2" width="2.3" height="40.8" fill="url(#gH)"/>
<rect x="346" y="251.2" width="2.3" height="40.8" fill="url(#gM)"/>
<rect x="346" y="291.2" width="2.3" height="25.3" fill="url(#gL)"/>
<rect x="348" y="195" width="2.3" height="17.2" fill="#fae816"/>
<rect x="348" y="211.4" width="2.3" height="40.8" fill="url(#gH)"/>
<rect x="348" y="251.4" width="2.3" height="40.8" fill="url(#gM)"/>
<rect x="348" y="291.4" width="2.3" height="25.3" fill="url(#gL)"/>
<rect x="350" y="195" width="2.3" height="17.3" fill="#fae816"/>
<rect x="350" y="211.5" width="2.3" height="40.8" fill="url(#gH)"/>
<rect x="350" y="251.5" width="2.3" height="40.8" fill="url(#gM)"/>
<rect x="350" y="291.5" width="2.3" height="25.4" fill="url(#gL)"/>
<rect x="352" y="195" width="2.3" height="17.4" fill="#fae816"/>
<rect x="352" y="211.6" width="2.3" height="40.8" fill="url(#gH)"/>
<rect x="352" y="251.6" width="2.3" height="40.8" fill="url(#gM)"/>
<rect x="352" y="291.6" width="2.3" height="25.5" fill="url(#gL)"/>
<rect x="354" y="195" width="2.3" height="17.6" fill="#fae816"/>
<rect x="354" y="211.8" width="2.3" height="40.8" fill="url(#gH)"/>
<rect x="354" y="251.8" width="2.3" height="40.8" fill="url(#gM)"/>
<rect x="354" y="291.8" width="2.3" height="25.5" fill="url(#gL)"/>
<rect x="356" y="195" width="2.3" height="17.7" fill="#fae816"/>
<rect x="356" y="211.9" width="2.3" height="40.8" fill="url(#gH)"/>
<rect x="356" y="251.9" width="2.3" height="40.8" fill="url(#gM)"/>
<rect x="356" y="291.9" width="2.3" height="25.6" fill="url(#gL)"/>
<rect x="358" y="195" width="2.3" height="17.9" fill="#fae816"/>
<rect x="358" y="212.1" width="2.3" height="40.8" fill="url(#gH)"/>
<rect x="358" y="252.1" width="2.3" height="40.8" fill="url(#gM)"/>
<rect x="358" y="292.1" width="2.3" height="25.6" fill="url(#gL)"/>
<rect x="360" y="195" width="2.3" height="18" fill="#fae816"/>
<rect x="360" y="212.2" width="2.3" height="40.8" fill="url(#gH)"/>
<rect x="360" y="252.2" width="2.3" height="40.8" fill="url(#gM)"/>
<rect x="360" y="292.2" width="2.3" height="25.7" fill="url(#gL)"/>
<rect x="362" y="195" width="2.3" height="18.2" fill="#fae816"/>
<rect x="362" y="212.4" width="2.3" height="40.8" fill="url(#gH)"/>
<rect x="362" y="252.4" width="2.3" height="40.8" fill="url(#gM)"/>
<rect x="362" y="292.4" width="2.3" height="25.7" fill="url(#gL)"/>
<rect x="364" y="195" width="2.3" height="18.3" fill="#fae816"/>
<rect x="364" y="212.5" width="2.3" height="40.8" fill="url(#gH)"/>
<rect x="364" y="252.5" width="2.3" height="40.8" fill="url(#gM)"/>
<rect x="364" y="292.5" width="2.3" height="25.8" fill="url(#gL)"/>
<rect x="366" y="195" width="2.3" height="18.4" fill="#fae816"/>
<rect x="366" y="212.6" width="2.3" height="40.8" fill="url(#gH)"/>
<rect x="366" y="252.6" width="2.3" height="40.8" fill="url(#gM)"/>
<rect x="366" y="292.6" width="2.3" height="25.9" fill="url(#gL)"/>
<rect x="368" y="195" width="2.3" height="18.6" fill="#fae816"/>
<rect x="368" y="212.8" width="2.3" height="40.8" fill="url(#gH)"/>
<rect x="368" y="252.8" width="2.3" height="40.8" fill="url(#gM)"/>
<rect x="368" y="292.8" width="2.3" height="25.9" fill="url(#gL)"/>
<rect x="370" y="195" width="2.3" height="18.7" fill="#fae816"/>
<rect x="370" y="212.9" width="2.3" height="40.8" fill="url(#gH)"/>
<rect x="370" y="252.9" width="2.3" height="40.8" fill="url(#gM)"/>
<rect x="370" y="292.9" width="2.3" height="26" fill="url(#gL)"/>
<rect x="372" y="195" width="2.3" height="18.9" fill="#fae816"/>
<rect x="372" y="213.1" width="2.3" height="40.8" fill="url(#gH)"/>
<rect x="372" y="253.1" width="2.3" height="40.8" fill="url(#gM)"/>
<rect x="372" y="293.1" width="2.3" height="26" fill="url(#gL)"/>
<rect x="374" y="195" width="2.3" height="19" fill="#fae816"/>
<rect x="374" y="213.2" width="2.3" height="40.8" fill="url(#gH)"/>
<rect x="374" y="253.2" width="2.3" height="40.8" fill="url(#gM)"/>
<rect x="374" y="293.2" width="2.3" height="26.1" fill="url(#gL)"/>
<rect x="376" y="195" width="2.3" height="19.2" fill="#fae816"/>
<rect x="376" y="213.4" width="2.3" height="40.8" fill="url(#gH)"/>
<rect x="376" y="253.4" width="2.3" height="40.8" fill="url(#gM)"/>
<rect x="376" y="293.4" width="2.3" height="26.1" fill="url(#gL)"/>
<rect x="378" y="195" width="2.3" height="19.3" fill="#fae816"/>
<rect x="378" y="213.5" width="2.3" height="40.8" fill="url(#gH)"/>
<rect x="378" y="253.5" width="2.3" height="40.8" fill="url(#gM)"/>
<rect x="378" y="293.5" width="2.3" height="26.2" fill="url(#gL)"/>
<rect x="380" y="195" width="2.3" height="19.4" fill="#fae816"/>
<rect x="380" y="213.6" width="2.3" height="40.8" fill="url(#gH)"/>
<rect x="380" y="253.6" width="2.3" height="40.8" fill="url(#gM)"/>
<rect x="380" y="293.6" width="2.3" height="26.3" fill="url(#gL)"/>
<rect x="382" y="195" width="2.3" height="19.6" fill="#fae816"/>
<rect x="382" y="213.8" width="2.3" height="40.8" fill="url(#gH)"/>
<rect x="382" y="253.8" width="2.3" height="40.8" fill="url(#gM)"/>
<rect x="382" y="293.8" width="2.3" height="26.3" fill="url(#gL)"/>
<rect x="384" y="195" width="2.3" height="19.7" fill="#fae816"/>
<rect x="384" y="213.9" width="2.3" height="40.8" fill="url(#gH)"/>
<rect x="384" y="253.9" width="2.3" height="40.8" fill="url(#gM)"/>
<rect x="384" y="293.9" width="2.3" height="26.4" fill="url(#gL)"/>
<rect x="386" y="195" width="2.3" height="19.9" fill="#fae816"/>
<rect x="386" y="214.1" width="2.3" height="40.8" fill="url(#gH)"/>
<rect x="386" y="254.1" width="2.3" height="40.8" fill="url(#gM)"/>
<rect x="386" y="294.1" width="2.3" height="26.4" fill="url(#gL)"/>
<rect x="388" y="195" width="2.3" height="20" fill="#fae816"/>
<rect x="388" y="214.2" width="2.3" height="40.8" fill="url(#gH)"/>
<rect x="388" y="254.2" width="2.3" height="40.8" fill="url(#gM)"/>
<rect x="388" y="294.2" width="2.3" height="26.5" fill="url(#gL)"/>
<rect x="390" y="195" width="2.3" height="20.2" fill="#fae816"/>
<rect x="390" y="214.4" width="2.3" height="40.8" fill="url(#gH)"/>
<rect x="390" y="254.4" width="2.3" height="40.8" fill="url(#gM)"/>
<rect x="390" y="294.4" width="2.3" height="26.5" fill="url(#gL)"/>
<rect x="392" y="195" width="2.3" height="20.3" fill="#fae816"/>
<rect x="392" y="214.5" width="2.3" height="40.8" fill="url(#gH)"/>
<rect x="392" y="254.5" width="2.3" height="40.8" fill="url(#gM)"/>
<rect x="392" y="294.5" width="2.3" height="26.6" fill="url(#gL)"/>
<rect x="394" y="195" width="2.3" height="20.4" fill="#fae816"/>
<rect x="394" y="214.6" width="2.3" height="40.8" fill="url(#gH)"/>
<rect x="394" y="254.6" width="2.3" height="40.8" fill="url(#gM)"/>
<rect x="394" y="294.6" width="2.3" height="26.7" fill="url(#gL)"/>
<rect x="396" y="195" width="2.3" height="20.6" fill="#fae816"/>
<rect x="396" y="214.8" width="2.3" height="40.8" fill="url(#gH)"/>
<rect x="396" y="254.8" width="2.3" height="40.8" fill="url(#gM)"/>
<rect x="396" y="294.8" width="2.3" height="26.7" fill="url(#gL)"/>
<rect x="398" y="195" width="2.3" height="20.7" fill="#fae816"/>
<rect x="398" y="214.9" width="2.3" height="40.8" fill="url(#gH)"/>
<rect x="398" y="254.9" width="2.3" height="40.8" fill="url(#gM)"/>
<rect x="398" y="294.9" width="2.3" height="26.8" fill="url(#gL)"/>
<rect x="203.1" y="315.7" width="1.5" height="28.3" fill="url(#dk)"/>
<rect x="261.6" y="306.9" width="1.6" height="43.1" fill="url(#dk)"/>
<rect x="167.1" y="312.5" width="2.0" height="27.9" fill="url(#dk)"/>
<rect x="202.5" y="318.6" width="2.2" height="25.4" fill="url(#dk)"/>
<rect x="298.8" y="323.5" width="1.4" height="30.3" fill="url(#dk)"/>
<rect x="189.1" y="330.2" width="1.7" height="12.5" fill="url(#dk)"/>
<rect x="248.7" y="324.5" width="1.8" height="24.2" fill="url(#dk)"/>
<rect x="175.2" y="322.1" width="1.8" height="19.1" fill="url(#dk)"/>
<rect x="213.2" y="330.1" width="0.7" height="15.0" fill="url(#dk)"/>
<rect x="240.6" y="330.5" width="1.8" height="17.4" fill="url(#dk)"/>
<rect x="279.3" y="316.5" width="2.1" height="35.3" fill="url(#dk)"/>
<rect x="293.1" y="332.1" width="1.4" height="21.1" fill="url(#dk)"/>
<rect x="305.6" y="308.9" width="0.8" height="45.5" fill="url(#dk)"/>
<rect x="199.7" y="317.6" width="2.1" height="26.1" fill="url(#dk)"/>
<rect x="265.3" y="319.7" width="1.2" height="30.7" fill="url(#dk)"/>
<rect x="226.7" y="322.0" width="1.2" height="24.5" fill="url(#dk)"/>
<rect x="258.5" y="324.8" width="2.1" height="24.9" fill="url(#dk)"/>
<rect x="313.6" y="333.7" width="2.0" height="21.6" fill="url(#dk)"/>
<rect x="272.4" y="330.0" width="0.9" height="21.1" fill="url(#dk)"/>
<rect x="319.3" y="321.5" width="2.1" height="34.4" fill="url(#dk)"/>
<rect x="279.2" y="329.1" width="1.0" height="22.7" fill="url(#dk)"/>
<rect x="256.8" y="306.8" width="1.1" height="42.7" fill="url(#dk)"/>
<rect x="301.6" y="307.6" width="2.2" height="46.5" fill="url(#dk)"/>
<rect x="293.1" y="309.4" width="1.3" height="43.8" fill="url(#dk)"/>
<rect x="212.0" y="330.3" width="1.9" height="14.7" fill="url(#dk)"/>
<rect x="172.1" y="306.3" width="1.6" height="34.6" fill="url(#dk)"/>
<rect x="280.0" y="330.5" width="1.2" height="21.3" fill="url(#dk)"/>
<rect x="321.9" y="334.0" width="1.5" height="22.2" fill="url(#dk)"/>
<rect x="214.5" y="322.4" width="0.8" height="22.8" fill="url(#dk)"/>
<rect x="170.0" y="316.8" width="1.0" height="23.9" fill="url(#dk)"/>
<rect x="262.7" y="306.2" width="0.9" height="43.9" fill="url(#dk)"/>
<rect x="303.8" y="332.8" width="1.2" height="21.5" fill="url(#dk)"/>
<rect x="308.5" y="318.4" width="1.3" height="36.4" fill="url(#dk)"/>
<rect x="248.2" y="322.3" width="1.7" height="26.4" fill="url(#dk)"/>
<rect x="254.5" y="332.3" width="1.6" height="17.0" fill="url(#dk)"/>
<rect x="246.1" y="325.9" width="1.3" height="22.5" fill="url(#dk)"/>
<rect x="203.0" y="333.4" width="1.2" height="10.7" fill="url(#dk)"/>
<rect x="248.4" y="305.3" width="1.5" height="43.3" fill="url(#dk)"/>
<rect x="231.4" y="305.6" width="1.6" height="41.4" fill="url(#dk)"/>
<rect x="263.5" y="306.7" width="1.6" height="43.5" fill="url(#dk)"/>
<rect x="265.4" y="291.2" width="1.3" height="23.8" fill="url(#bl)"/>
<rect x="278.1" y="263.0" width="1.7" height="16.5" fill="url(#bl)"/>
<rect x="273.2" y="272.8" width="2.0" height="26.4" fill="url(#bl)"/>
<rect x="259.8" y="277.7" width="1.1" height="22.8" fill="url(#bl)"/>
<rect x="224.1" y="274.9" width="1.5" height="24.4" fill="url(#bl)"/>
<rect x="288.6" y="286.5" width="0.7" height="33.4" fill="url(#bl)"/>
<rect x="214.6" y="296.6" width="1.0" height="21.0" fill="url(#bl)"/>
<rect x="195.0" y="292.0" width="1.3" height="17.5" fill="url(#bl)"/>
<rect x="216.5" y="297.8" width="1.1" height="26.0" fill="url(#bl)"/>
<rect x="301.9" y="276.5" width="0.9" height="31.3" fill="url(#bl)"/>
<rect x="306.6" y="271.7" width="1.3" height="18.0" fill="url(#bl)"/>
<rect x="249.7" y="296.7" width="0.9" height="36.0" fill="url(#bl)"/>
<rect x="194.4" y="296.7" width="1.1" height="31.0" fill="url(#bl)"/>
<rect x="294.0" y="267.6" width="1.1" height="22.3" fill="url(#bl)"/>
<rect x="292.0" y="276.9" width="1.1" height="25.4" fill="url(#bl)"/>
<rect x="232.2" y="301.6" width="1.2" height="18.9" fill="url(#bl)"/>
<rect x="165.7" y="299.8" width="1.9" height="39.7" fill="url(#bl)"/>
<rect x="234.5" y="301.9" width="1.9" height="20.6" fill="url(#bl)"/>
<rect x="284.3" y="290.5" width="1.8" height="28.0" fill="url(#bl)"/>
<rect x="211.2" y="271.8" width="1.1" height="16.7" fill="url(#bl)"/>
<rect x="259.2" y="296.8" width="1.1" height="16.1" fill="url(#bl)"/>
<rect x="309.6" y="301.7" width="1.6" height="37.4" fill="url(#bl)"/>
<rect x="308.9" y="262.6" width="1.5" height="33.6" fill="url(#bl)"/>
<rect x="192.5" y="290.5" width="1.1" height="28.1" fill="url(#bl)"/>
<rect x="231.2" y="288.3" width="1.9" height="23.5" fill="url(#bl)"/>
<rect x="205.4" y="282.5" width="1.8" height="34.6" fill="url(#bl)"/>
<rect x="221.3" y="285.0" width="1.0" height="35.4" fill="url(#bl)"/>
<rect x="192.4" y="301.6" width="1.7" height="35.2" fill="url(#bl)"/>
<rect x="296.8" y="289.0" width="0.7" height="36.6" fill="url(#bl)"/>
<rect x="173.0" y="273.5" width="1.1" height="28.2" fill="url(#bl)"/>
<rect x="232.7" y="295.4" width="1.3" height="15.0" fill="url(#bl)"/>
<rect x="173.8" y="267.4" width="0.9" height="16.7" fill="url(#bl)"/>
<rect x="321.0" y="265.7" width="1.8" height="27.6" fill="url(#bl)"/>
<rect x="215.5" y="277.1" width="1.1" height="31.2" fill="url(#bl)"/>
<rect x="258.9" y="270.2" width="1.2" height="23.2" fill="url(#bl)"/>
<rect x="184.8" y="292.8" width="1.4" height="24.5" fill="url(#bl)"/>
<rect x="177.8" y="278.1" width="0.9" height="30.1" fill="url(#bl)"/>
<rect x="290.2" y="296.4" width="1.2" height="30.6" fill="url(#bl)"/>
<rect x="234.1" y="283.3" width="1.2" height="32.6" fill="url(#bl)"/>
<rect x="232.3" y="281.8" width="1.6" height="21.1" fill="url(#bl)"/>
<rect x="250.7" y="265.1" width="1.6" height="25.6" fill="url(#bl)"/>
<rect x="233.1" y="302.3" width="1.8" height="24.4" fill="url(#bl)"/>
<rect x="308.7" y="273.3" width="1.7" height="26.6" fill="url(#bl)"/>
<rect x="184.7" y="290.5" width="1.8" height="37.2" fill="url(#bl)"/>
<rect x="291.8" y="293.6" width="1.6" height="29.1" fill="url(#bl)"/>
<rect x="201.3" y="250.2" width="0.9" height="13.6" fill="url(#lt)"/>
<rect x="275.2" y="253.7" width="0.5" height="12.5" fill="url(#lt)"/>
<rect x="286.9" y="250.9" width="0.6" height="31.0" fill="url(#lt)"/>
<rect x="203.3" y="276.9" width="1.0" height="30.9" fill="url(#lt)"/>
<rect x="294.8" y="281.9" width="0.8" height="10.9" fill="url(#lt)"/>
<rect x="274.4" y="278.6" width="0.8" height="12.7" fill="url(#lt)"/>
<rect x="272.4" y="252.4" width="1.1" height="18.1" fill="url(#lt)"/>
<rect x="252.0" y="259.7" width="1.0" height="14.5" fill="url(#lt)"/>
<rect x="217.5" y="280.1" width="0.9" height="19.8" fill="url(#lt)"/>
<rect x="230.4" y="264.0" width="0.7" height="20.5" fill="url(#lt)"/>
<rect x="199.2" y="288.9" width="0.8" height="20.3" fill="url(#lt)"/>
<rect x="272.2" y="277.6" width="0.6" height="28.9" fill="url(#lt)"/>
<rect x="264.1" y="269.3" width="0.8" height="26.1" fill="url(#lt)"/>
<rect x="288.7" y="253.8" width="0.6" height="28.7" fill="url(#lt)"/>
<rect x="290.8" y="267.7" width="0.8" height="28.0" fill="url(#lt)"/>
<rect x="210.5" y="258.0" width="0.7" height="24.6" fill="url(#lt)"/>
<rect x="224.6" y="277.6" width="0.6" height="33.8" fill="url(#lt)"/>
<rect x="222.5" y="266.5" width="0.9" height="31.3" fill="url(#lt)"/>
<rect x="254.3" y="258.7" width="0.7" height="10.6" fill="url(#lt)"/>
<rect x="242.7" y="256.9" width="0.7" height="19.0" fill="url(#lt)"/>
<rect x="225.4" y="255.7" width="1.0" height="34.8" fill="url(#lt)"/>
<rect x="242.8" y="268.7" width="0.9" height="30.9" fill="url(#lt)"/>
<rect x="280.4" y="269.3" width="0.8" height="28.0" fill="url(#lt)"/>
<rect x="284.2" y="279.3" width="0.7" height="34.0" fill="url(#lt)"/>
<rect x="241.4" y="259.4" width="0.6" height="27.9" fill="url(#lt)"/>
</g>
<line x1="26.5" y1="141" x2="26.5" y2="36" class="ax"/>
<line x1="23.5" y1="141" x2="25.0" y2="141" class="ax"/>
<text x="0" y="0" font-size="8.8" text-anchor="end" transform="translate(21.4,143.9) scale(0.87,1)">0</text>
<line x1="23.5" y1="120" x2="25.0" y2="120" class="ax"/>
<text x="0" y="0" font-size="8.8" text-anchor="end" transform="translate(21.4,122.9) scale(0.87,1)">0.2</text>
<line x1="23.5" y1="99" x2="25.0" y2="99" class="ax"/>
<text x="0" y="0" font-size="8.8" text-anchor="end" transform="translate(21.4,101.9) scale(0.87,1)">0.4</text>
<line x1="23.5" y1="78" x2="25.0" y2="78" class="ax"/>
<text x="0" y="0" font-size="8.8" text-anchor="end" transform="translate(21.4,80.9) scale(0.87,1)">0.6</text>
<line x1="23.5" y1="57" x2="25.0" y2="57" class="ax"/>
<text x="0" y="0" font-size="8.8" text-anchor="end" transform="translate(21.4,59.9) scale(0.87,1)">0.8</text>
<line x1="23.5" y1="36" x2="25.0" y2="36" class="ax"/>
<text x="0" y="0" font-size="8.8" text-anchor="end" transform="translate(21.4,38.9) scale(0.87,1)">1</text>
<line x1="313" y1="149" x2="313" y2="48.5" class="ax"/>
<line x1="310" y1="149" x2="311.5" y2="149" class="ax"/>
<text x="0" y="0" font-size="8.2" text-anchor="end" transform="translate(307.3,151.7) scale(0.85,1)">0</text>
<line x1="310" y1="128.9" x2="311.5" y2="128.9" class="ax"/>
<text x="0" y="0" font-size="8.2" text-anchor="end" transform="translate(307.3,131.6) scale(0.85,1)">0.2</text>
<line x1="310" y1="108.8" x2="311.5" y2="108.8" class="ax"/>
<text x="0" y="0" font-size="8.2" text-anchor="end" transform="translate(307.3,111.5) scale(0.85,1)">0.4</text>
<line x1="310" y1="88.7" x2="311.5" y2="88.7" class="ax"/>
<text x="0" y="0" font-size="8.2" text-anchor="end" transform="translate(307.3,91.4) scale(0.85,1)">0.6</text>
<line x1="310" y1="68.6" x2="311.5" y2="68.6" class="ax"/>
<text x="0" y="0" font-size="8.2" text-anchor="end" transform="translate(307.3,71.3) scale(0.85,1)">0.8</text>
<line x1="310" y1="48.5" x2="311.5" y2="48.5" class="ax"/>
<text x="0" y="0" font-size="8.2" text-anchor="end" transform="translate(307.3,51.2) scale(0.85,1)">1</text>
<line x1="162" y1="340.5" x2="162" y2="241.2" class="ax2"/>
<line x1="159" y1="340.5" x2="160.5" y2="340.5" class="ax2"/>
<text x="0" y="0" font-size="8.2" text-anchor="end" transform="translate(154.2,343.2) scale(0.92,1)">0</text>
<line x1="159" y1="320.6" x2="160.5" y2="320.6" class="ax2"/>
<text x="0" y="0" font-size="8.2" text-anchor="end" transform="translate(154.2,323.3) scale(0.92,1)">0.2</text>
<line x1="159" y1="300.8" x2="160.5" y2="300.8" class="ax2"/>
<text x="0" y="0" font-size="8.2" text-anchor="end" transform="translate(154.2,303.5) scale(0.92,1)">0.4</text>
<line x1="159" y1="280.9" x2="160.5" y2="280.9" class="ax2"/>
<text x="0" y="0" font-size="8.2" text-anchor="end" transform="translate(154.2,283.6) scale(0.92,1)">0.6</text>
<line x1="159" y1="261.1" x2="160.5" y2="261.1" class="ax2"/>
<text x="0" y="0" font-size="8.2" text-anchor="end" transform="translate(154.2,263.8) scale(0.92,1)">0.8</text>
<line x1="159" y1="241.2" x2="160.5" y2="241.2" class="ax2"/>
<text x="0" y="0" font-size="8.2" text-anchor="end" transform="translate(154.2,243.9) scale(0.92,1)">1</text>
<line x1="28" y1="141.6" x2="175.5" y2="154.2" class="axd"/><line x1="175.5" y1="154.4" x2="238" y2="126.8" class="axd"/>
<line x1="314.5" y1="149.6" x2="482" y2="164.6" class="axd"/><line x1="482" y1="164.8" x2="543" y2="123.8" class="axd"/>
<line x1="156" y1="339.8" x2="328.5" y2="357.3" class="axd"/><line x1="328.5" y1="355.6" x2="398.5" y2="321" class="axd"/>
<text x="0" y="0" font-size="8.8" text-anchor="middle" transform="translate(38.8,154.5) scale(0.87,1) rotate(-86.6)">0.35</text>
<text x="0" y="0" font-size="8.8" text-anchor="middle" transform="translate(54.8,155.8) scale(0.87,1) rotate(-86.6)">0.36</text>
<text x="0" y="0" font-size="8.8" text-anchor="middle" transform="translate(70.8,157.2) scale(0.87,1) rotate(-86.6)">0.37</text>
<text x="0" y="0" font-size="8.8" text-anchor="middle" transform="translate(87.3,158.5) scale(0.87,1) rotate(-86.6)">0.38</text>
<text x="0" y="0" font-size="8.8" text-anchor="middle" transform="translate(102.8,159.8) scale(0.87,1) rotate(-86.6)">0.39</text>
<text x="0" y="0" font-size="8.8" text-anchor="middle" transform="translate(118.8,161.1) scale(0.87,1) rotate(-86.6)">0.40</text>
<text x="0" y="0" font-size="8.8" text-anchor="middle" transform="translate(134.5,161.5) scale(0.87,1) rotate(-86.6)">350</text>
<text x="0" y="0" font-size="8.8" text-anchor="middle" transform="translate(149.8,164.5) scale(0.87,1) rotate(-86.6)">0.41</text>
<text x="0" y="0" font-size="8.8" text-anchor="middle" transform="translate(166.3,165.8) scale(0.87,1) rotate(-86.6)">0.42</text>
<text x="0" y="0" font-size="8.8" text-anchor="middle" transform="translate(182.4,157.5) rotate(-83) scale(0.95,1)">1</text>
<text x="0" y="0" font-size="8.8" text-anchor="middle" transform="translate(195.2,154.9) rotate(-83) scale(0.95,1)">10</text>
<text x="0" y="0" font-size="8.8" text-anchor="middle" transform="translate(208.2,148.3) rotate(-83) scale(0.95,1)">20</text>
<text x="0" y="0" font-size="8.8" text-anchor="middle" transform="translate(222,143) rotate(-83) scale(0.95,1)">30</text>
<text x="0" y="0" font-size="8.8" text-anchor="middle" transform="translate(234.9,138.5) rotate(-83) scale(0.95,1)">40</text>
<text x="0" y="0" font-size="8.8" text-anchor="middle" transform="translate(246,132.4) rotate(-83) scale(0.95,1)">50</text>
<text x="0" y="0" font-size="10" text-anchor="middle" class="b" transform="translate(9.9,86) scale(0.78,1) rotate(-90.0)">Normalized Amplitude</text>
<text x="0" y="0" font-size="9.8" text-anchor="middle" class="b" transform="translate(102.2,176) scale(0.78,1) rotate(0.0)">Time(s)</text>
<text x="0" y="0" font-size="9.4" text-anchor="middle" class="b" transform="translate(222.6,162.6) rotate(-31) scale(0.89,1)">No of Channels</text>
<text x="0" y="0" font-size="13" text-anchor="middle" transform="translate(132.2,200.4) scale(0.88,1)">(<tspan class="b">a</tspan>)</text>
<text x="0" y="0" font-size="8.2" text-anchor="middle" transform="translate(302,161.4) scale(0.8,1) rotate(0.0)">0.66</text>
<text x="0" y="0" font-size="8.2" text-anchor="middle" transform="translate(328.3,163.8) scale(0.8,1) rotate(0.0)">0.67</text>
<text x="0" y="0" font-size="8.2" text-anchor="middle" transform="translate(354.3,166.4) scale(0.8,1) rotate(0.0)">0.68</text>
<text x="0" y="0" font-size="8.2" text-anchor="middle" transform="translate(380.8,168.8) scale(0.8,1) rotate(0.0)">0.69</text>
<text x="0" y="0" font-size="8.2" text-anchor="middle" transform="translate(407.2,171.4) scale(0.8,1) rotate(0.0)">0.70</text>
<text x="0" y="0" font-size="8.2" text-anchor="middle" transform="translate(433,173.8) scale(0.8,1) rotate(0.0)">0.71</text>
<text x="0" y="0" font-size="8.2" text-anchor="middle" transform="translate(459.5,176) scale(0.8,1) rotate(0.0)">0.72</text>
<text x="0" y="0" font-size="8.2" text-anchor="middle" transform="translate(488.8,175) scale(0.8,1) rotate(0.0)">0</text>
<text x="0" y="0" font-size="8.2" text-anchor="middle" transform="translate(515.3,158.2) scale(0.8,1) rotate(0.0)">20</text>
<text x="0" y="0" font-size="8.2" text-anchor="middle" transform="translate(540.3,140.4) scale(0.8,1) rotate(0.0)">40</text>
<text x="0" y="0" font-size="8.9" text-anchor="middle" class="b" transform="translate(296.2,99) scale(0.85,1) rotate(-90.0)">Normalized amplitude</text>
<text x="0" y="0" font-size="8.4" text-anchor="middle" class="b" transform="translate(406.6,178.2) scale(0.85,1) rotate(0.0)">Time (s)</text>
<text x="0" y="0" font-size="8.8" text-anchor="middle" class="b" transform="translate(529.3,160.9) rotate(-36.5) scale(0.89,1)">No of channels</text>
<text x="0" y="0" font-size="13" text-anchor="middle" transform="translate(420.5,199.9) scale(0.93,1)">(<tspan class="b">b</tspan>)</text>
<text x="0" y="0" font-size="8.2" text-anchor="middle" transform="translate(148.5,351.2) scale(0.86,1) rotate(0.0)">1.33</text>
<text x="0" y="0" font-size="8.2" text-anchor="middle" transform="translate(171.4,353.6) scale(0.86,1) rotate(0.0)">1.34</text>
<text x="0" y="0" font-size="8.2" text-anchor="middle" transform="translate(194.3,356.1) scale(0.86,1) rotate(0.0)">1.35</text>
<text x="0" y="0" font-size="8.2" text-anchor="middle" transform="translate(217.2,358.6) scale(0.86,1) rotate(0.0)">1.36</text>
<text x="0" y="0" font-size="8.2" text-anchor="middle" transform="translate(240.1,361) scale(0.86,1) rotate(0.0)">1.37</text>
<text x="0" y="0" font-size="8.2" text-anchor="middle" transform="translate(263,363.4) scale(0.86,1) rotate(0.0)">1.38</text>
<text x="0" y="0" font-size="8.2" text-anchor="middle" transform="translate(285.9,365.9) scale(0.86,1) rotate(0.0)">1.39</text>
<text x="0" y="0" font-size="8.2" text-anchor="middle" transform="translate(308.8,368.3) scale(0.86,1) rotate(0.0)">1.40</text>
<text x="0" y="0" font-size="8.2" text-anchor="middle" transform="translate(334.5,365.3) scale(0.86,1) rotate(0.0)">0</text>
<text x="0" y="0" font-size="8.2" text-anchor="middle" transform="translate(355.4,356.3) scale(0.86,1) rotate(0.0)">10</text>
<text x="0" y="0" font-size="8.2" text-anchor="middle" transform="translate(374.5,346.3) scale(0.86,1) rotate(0.0)">20</text>
<text x="0" y="0" font-size="8.2" text-anchor="middle" transform="translate(392.7,337) scale(0.86,1) rotate(0.0)">30</text>
<text x="0" y="0" font-size="8.7" text-anchor="middle" class="b" transform="translate(142.1,291.1) scale(0.88,1) rotate(-90.0)">Normalized amplitude</text>
<text x="0" y="0" font-size="9.6" text-anchor="middle" class="b" transform="translate(252.7,372.7) scale(0.8,1) rotate(0.0)">Time(s)</text>
<text x="0" y="0" font-size="9.0" text-anchor="middle" class="b" transform="translate(385.8,353.3) rotate(-32.4) scale(0.89,1)">No of channels</text>
<text x="0" y="0" font-size="13" text-anchor="middle" transform="translate(274.8,390.4) scale(0.87,1)">(<tspan class="b">c</tspan>)</text>
</svg>
</body></html>
